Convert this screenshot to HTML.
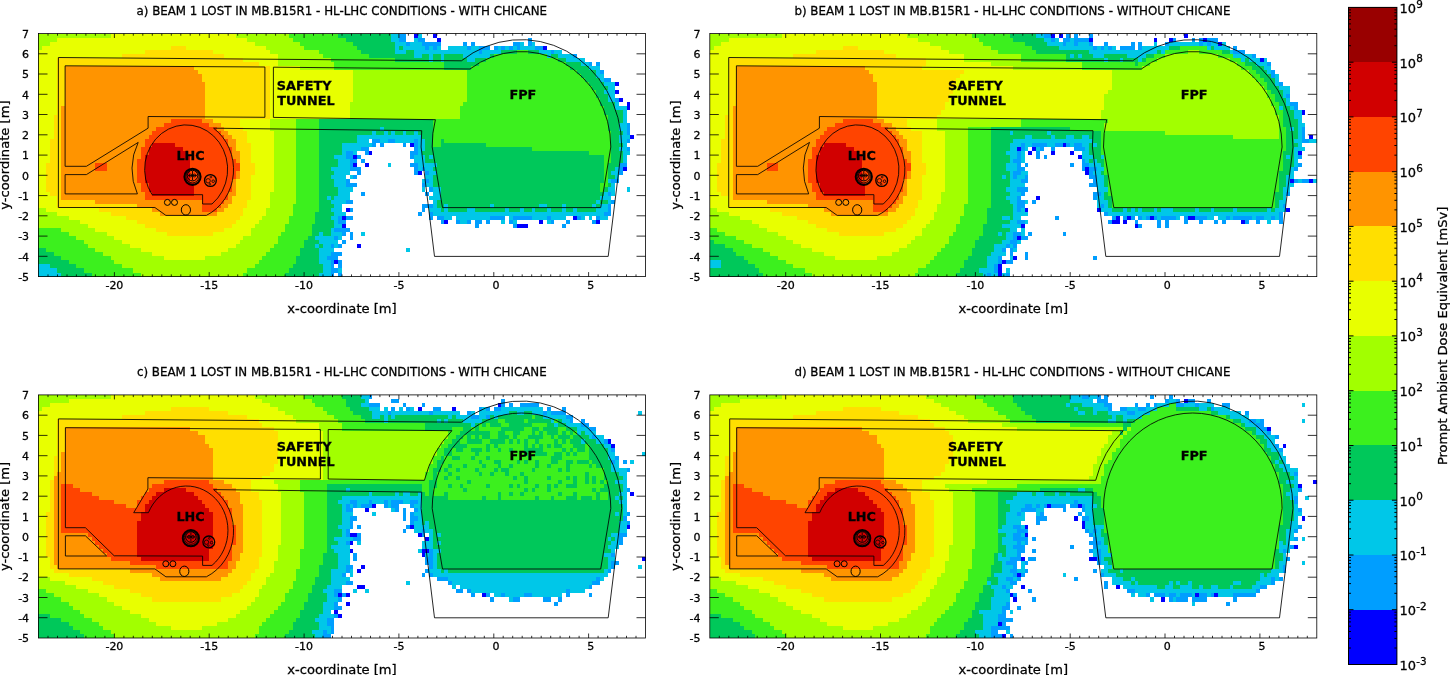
<!DOCTYPE html>
<html><head><meta charset="utf-8"><title>Prompt Ambient Dose Equivalent</title>
<style>html,body{margin:0;padding:0;background:#fff}svg{display:block}text{stroke:#000;stroke-width:.28px}</style></head><body>
<svg width="1450" height="676" viewBox="0 0 1450 676" font-family="'DejaVu Sans','Liberation Sans',sans-serif" fill="#000">
<rect width="1450" height="676" fill="#fff"/>
<g shape-rendering="crispEdges">
<path fill="#0000ff" d="M414 34h4v4h-4zM433 34h4v4h-4zM437 38h4v4h-4zM543 46h4v4h-4zM615 82h4v4h-4zM615 90h4v4h-4zM619 98h4v4h-4zM627 102h3v4h-3zM627 106h3v4h-3zM630 135h4v4h-4zM410 143h4v4h-4zM369 151h3v4h-3zM353 155h4v4h-4zM353 163h4v4h-4zM365 163h4v4h-4zM623 167h4v4h-4zM418 171h4v4h-4zM346 208h4v4h-4zM342 216h4v4h-4zM573 216h4v4h-4zM444 220h4v4h-4zM539 220h4v4h-4zM596 220h4v4h-4zM342 224h4v4h-4zM517 224h11v4h-11zM357 244h4v4h-4zM334 260h4v4h-4z"/>
<path fill="#009eff" d="M399 34h7v4h-7zM399 38h7v4h-7zM418 38h7v4h-7zM528 38h4v4h-4zM406 42h4v4h-4zM422 42h19v4h-19zM463 42h4v4h-4zM471 42h4v4h-4zM513 42h7v4h-7zM528 42h4v4h-4zM425 46h4v4h-4zM433 46h4v4h-4zM467 46h4v4h-4zM479 46h11v4h-11zM494 46h4v4h-4zM501 46h4v4h-4zM509 46h4v4h-4zM517 46h3v4h-3zM535 46h8v4h-8zM479 50h3v4h-3zM551 50h3v4h-3zM573 54h4v4h-4zM589 62h3v4h-3zM596 62h4v4h-4zM600 70h4v4h-4zM604 78h7v4h-7zM615 98h4v4h-4zM627 123h3v4h-3zM627 127h3v4h-3zM627 131h3v4h-3zM372 139h8v4h-8zM388 139h7v4h-7zM414 139h4v4h-4zM627 139h3v4h-3zM372 143h4v4h-4zM380 143h4v4h-4zM403 143h3v4h-3zM414 143h4v4h-4zM361 147h8v4h-8zM414 147h4v4h-4zM627 147h3v4h-3zM346 151h7v4h-7zM365 151h4v4h-4zM410 151h8v4h-8zM346 155h7v4h-7zM357 155h4v4h-4zM410 155h4v4h-4zM350 159h7v4h-7zM361 159h4v4h-4zM350 163h3v4h-3zM410 163h8v4h-8zM619 163h8v4h-8zM350 167h11v4h-11zM414 167h4v4h-4zM422 167h3v4h-3zM619 167h4v4h-4zM357 171h4v4h-4zM414 171h4v4h-4zM425 171h4v4h-4zM619 171h4v4h-4zM353 175h4v4h-4zM346 179h4v4h-4zM425 179h4v4h-4zM611 179h8v4h-8zM346 183h11v4h-11zM422 183h3v4h-3zM429 187h4v5h-4zM361 192h4v4h-4zM425 192h4v4h-4zM608 192h3v4h-3zM346 200h7v4h-7zM611 200h4v4h-4zM422 204h11v4h-11zM608 204h3v4h-3zM350 208h3v4h-3zM422 208h3v4h-3zM608 208h3v4h-3zM418 212h4v4h-4zM429 212h4v4h-4zM604 212h7v4h-7zM338 216h4v4h-4zM346 216h7v4h-7zM429 216h4v4h-4zM437 216h7v4h-7zM490 216h15v4h-15zM513 216h19v4h-19zM547 216h4v4h-4zM577 216h4v4h-4zM596 216h4v4h-4zM338 220h8v4h-8zM441 220h3v4h-3zM456 220h4v4h-4zM467 220h4v4h-4zM475 220h7v4h-7zM486 220h4v4h-4zM509 220h4v4h-4zM551 220h3v4h-3zM566 220h4v4h-4zM592 220h4v4h-4zM475 224h4v4h-4zM513 224h4v4h-4zM562 224h4v4h-4zM334 228h16v4h-16zM342 232h4v4h-4zM350 232h3v4h-3zM334 236h4v4h-4zM350 236h3v4h-3zM342 240h4v4h-4zM331 244h3v4h-3zM338 244h4v4h-4zM331 252h11v4h-11zM327 256h11v4h-11zM331 260h3v4h-3zM338 260h4v4h-4zM331 264h3v4h-3zM338 264h4v4h-4zM331 268h7v5h-7zM331 273h3v4h-3zM338 273h4v4h-4z"/>
<path fill="#00c7e8" d="M391 34h8v4h-8zM418 34h4v4h-4zM391 38h8v4h-8zM414 38h4v4h-4zM395 42h11v4h-11zM410 42h12v4h-12zM520 42h4v4h-4zM532 42h3v4h-3zM395 46h4v4h-4zM403 46h22v4h-22zM429 46h4v4h-4zM437 46h4v4h-4zM448 46h19v4h-19zM471 46h8v4h-8zM498 46h3v4h-3zM505 46h4v4h-4zM513 46h4v4h-4zM520 46h15v4h-15zM395 50h11v4h-11zM414 50h65v4h-65zM482 50h19v4h-19zM539 50h12v4h-12zM554 50h8v4h-8zM414 54h8v4h-8zM429 54h4v4h-4zM441 54h3v4h-3zM463 54h27v4h-27zM547 54h4v4h-4zM558 54h15v4h-15zM429 58h4v4h-4zM441 58h3v4h-3zM467 58h8v4h-8zM566 58h19v4h-19zM581 62h8v4h-8zM589 66h11v4h-11zM596 70h4v4h-4zM596 74h8v4h-8zM600 78h4v4h-4zM604 82h11v4h-11zM608 86h7v4h-7zM604 90h11v4h-11zM608 94h7v4h-7zM608 98h7v4h-7zM615 102h4v4h-4zM615 106h12v4h-12zM623 110h4v5h-4zM623 115h4v4h-4zM623 119h4v4h-4zM619 123h8v4h-8zM380 127h4v4h-4zM619 127h8v4h-8zM372 131h4v4h-4zM384 131h4v4h-4zM391 131h4v4h-4zM403 131h3v4h-3zM414 131h4v4h-4zM623 131h4v4h-4zM357 135h65v4h-65zM619 135h11v4h-11zM357 139h12v4h-12zM380 139h8v4h-8zM395 139h19v4h-19zM418 139h7v4h-7zM619 139h8v4h-8zM342 143h30v4h-30zM418 143h7v4h-7zM623 143h4v4h-4zM342 147h19v4h-19zM418 147h7v4h-7zM619 147h8v4h-8zM342 151h4v4h-4zM353 151h4v4h-4zM418 151h4v4h-4zM623 151h7v4h-7zM334 155h12v4h-12zM414 155h11v4h-11zM429 155h4v4h-4zM623 155h4v4h-4zM338 159h12v4h-12zM414 159h11v4h-11zM623 159h4v4h-4zM338 163h12v4h-12zM388 163h3v4h-3zM418 163h19v4h-19zM331 167h19v4h-19zM418 167h4v4h-4zM425 167h8v4h-8zM615 167h4v4h-4zM334 171h16v4h-16zM429 171h8v4h-8zM611 171h8v4h-8zM331 175h15v4h-15zM350 175h3v4h-3zM425 175h8v4h-8zM615 175h4v4h-4zM334 179h12v4h-12zM422 179h3v4h-3zM429 179h4v4h-4zM608 179h3v4h-3zM334 183h12v4h-12zM425 183h8v4h-8zM611 183h4v4h-4zM338 187h15v5h-15zM422 187h3v5h-3zM433 187h8v5h-8zM608 187h7v5h-7zM627 187h3v5h-3zM338 192h12v4h-12zM433 192h8v4h-8zM604 192h4v4h-4zM611 192h4v4h-4zM327 196h4v4h-4zM334 196h16v4h-16zM429 196h12v4h-12zM600 196h11v4h-11zM331 200h15v4h-15zM433 200h4v4h-4zM596 200h4v4h-4zM608 200h3v4h-3zM334 204h8v4h-8zM433 204h4v4h-4zM444 204h4v4h-4zM490 204h4v4h-4zM539 204h8v4h-8zM562 204h4v4h-4zM592 204h4v4h-4zM600 204h8v4h-8zM331 208h11v4h-11zM429 208h12v4h-12zM444 208h4v4h-4zM467 208h8v4h-8zM505 208h4v4h-4zM520 208h4v4h-4zM532 208h3v4h-3zM547 208h4v4h-4zM562 208h4v4h-4zM573 208h4v4h-4zM596 208h12v4h-12zM334 212h12v4h-12zM433 212h171v4h-171zM331 216h7v4h-7zM444 216h8v4h-8zM456 216h34v4h-34zM509 216h4v4h-4zM532 216h15v4h-15zM551 216h15v4h-15zM581 216h4v4h-4zM589 216h3v4h-3zM600 216h8v4h-8zM334 220h4v4h-4zM460 220h7v4h-7zM501 220h4v4h-4zM513 220h4v4h-4zM547 220h4v4h-4zM334 224h8v4h-8zM331 228h3v4h-3zM319 232h4v4h-4zM331 232h11v4h-11zM361 232h4v4h-4zM315 236h19v4h-19zM338 236h4v4h-4zM319 240h19v4h-19zM315 244h4v4h-4zM323 244h8v4h-8zM334 244h4v4h-4zM319 248h15v4h-15zM406 248h4v4h-4zM319 252h12v4h-12zM319 256h8v4h-8zM319 260h12v4h-12zM38 264h12v4h-12zM323 264h8v4h-8zM38 268h19v5h-19zM323 268h8v5h-8zM338 268h4v5h-4zM38 273h23v4h-23zM319 273h12v4h-12z"/>
<path fill="#00c85a" d="M338 34h53v4h-53zM346 38h45v4h-45zM353 42h42v4h-42zM357 46h38v4h-38zM399 46h4v4h-4zM361 50h34v4h-34zM406 50h8v4h-8zM501 50h16v4h-16zM528 50h11v4h-11zM369 54h45v4h-45zM422 54h7v4h-7zM433 54h8v4h-8zM444 54h19v4h-19zM490 54h4v4h-4zM551 54h7v4h-7zM395 58h34v4h-34zM433 58h8v4h-8zM444 58h23v4h-23zM475 58h11v4h-11zM558 58h8v4h-8zM444 62h35v4h-35zM566 62h15v4h-15zM444 66h27v4h-27zM570 66h19v4h-19zM577 70h19v4h-19zM581 74h15v4h-15zM585 78h15v4h-15zM589 82h15v4h-15zM592 86h16v4h-16zM596 90h8v4h-8zM596 94h12v4h-12zM600 98h8v4h-8zM600 102h15v4h-15zM604 106h11v4h-11zM604 110h19v5h-19zM608 115h15v4h-15zM319 119h114v4h-114zM608 119h15v4h-15zM319 123h114v4h-114zM608 123h11v4h-11zM319 127h61v4h-61zM384 127h49v4h-49zM608 127h11v4h-11zM319 131h53v4h-53zM376 131h8v4h-8zM388 131h3v4h-3zM395 131h8v4h-8zM406 131h8v4h-8zM418 131h15v4h-15zM611 131h12v4h-12zM319 135h38v4h-38zM422 135h11v4h-11zM611 135h8v4h-8zM319 139h38v4h-38zM425 139h8v4h-8zM441 139h3v4h-3zM611 139h8v4h-8zM319 143h23v4h-23zM425 143h8v4h-8zM441 143h45v4h-45zM611 143h12v4h-12zM319 147h23v4h-23zM425 147h107v4h-107zM611 147h8v4h-8zM319 151h23v4h-23zM422 151h167v4h-167zM611 151h12v4h-12zM319 155h15v4h-15zM425 155h4v4h-4zM433 155h171v4h-171zM611 155h12v4h-12zM319 159h19v4h-19zM425 159h179v4h-179zM611 159h12v4h-12zM319 163h19v4h-19zM437 163h167v4h-167zM608 163h11v4h-11zM319 167h12v4h-12zM433 167h171v4h-171zM608 167h7v4h-7zM319 171h15v4h-15zM437 171h167v4h-167zM608 171h3v4h-3zM319 175h12v4h-12zM433 175h171v4h-171zM608 175h7v4h-7zM319 179h15v4h-15zM433 179h171v4h-171zM319 183h15v4h-15zM433 183h167v4h-167zM608 183h3v4h-3zM319 187h19v5h-19zM441 187h159v5h-159zM604 187h4v5h-4zM319 192h19v4h-19zM441 192h163v4h-163zM319 196h8v4h-8zM331 196h3v4h-3zM441 196h159v4h-159zM319 200h12v4h-12zM437 200h159v4h-159zM600 200h8v4h-8zM319 204h15v4h-15zM437 204h7v4h-7zM448 204h42v4h-42zM494 204h45v4h-45zM547 204h15v4h-15zM566 204h26v4h-26zM596 204h4v4h-4zM319 208h12v4h-12zM441 208h3v4h-3zM448 208h19v4h-19zM475 208h30v4h-30zM509 208h11v4h-11zM524 208h8v4h-8zM535 208h12v4h-12zM551 208h11v4h-11zM566 208h7v4h-7zM577 208h19v4h-19zM315 212h19v4h-19zM315 216h16v4h-16zM315 220h19v4h-19zM312 224h22v4h-22zM312 228h19v4h-19zM312 232h7v4h-7zM323 232h8v4h-8zM308 236h7v4h-7zM304 240h15v4h-15zM304 244h11v4h-11zM319 244h4v4h-4zM38 248h8v4h-8zM300 248h19v4h-19zM38 252h16v4h-16zM300 252h19v4h-19zM38 256h23v4h-23zM296 256h23v4h-23zM38 260h31v4h-31zM296 260h23v4h-23zM50 264h26v4h-26zM293 264h30v4h-30zM57 268h27v5h-27zM289 268h34v5h-34zM61 273h31v4h-31zM285 273h34v4h-34z"/>
<path fill="#3cf01e" d="M289 34h49v4h-49zM293 38h53v4h-53zM300 42h53v4h-53zM304 46h53v4h-53zM319 50h42v4h-42zM517 50h11v4h-11zM323 54h46v4h-46zM494 54h53v4h-53zM331 58h64v4h-64zM486 58h72v4h-72zM334 62h110v4h-110zM479 62h87v4h-87zM334 66h110v4h-110zM471 66h99v4h-99zM467 70h110v4h-110zM467 74h114v4h-114zM467 78h118v4h-118zM467 82h122v4h-122zM467 86h125v4h-125zM467 90h129v4h-129zM467 94h129v4h-129zM467 98h133v4h-133zM463 102h137v4h-137zM460 106h144v4h-144zM460 110h144v5h-144zM460 115h148v4h-148zM296 119h23v4h-23zM433 119h175v4h-175zM296 123h23v4h-23zM433 123h175v4h-175zM296 127h23v4h-23zM433 127h175v4h-175zM296 131h23v4h-23zM433 131h178v4h-178zM296 135h23v4h-23zM433 135h178v4h-178zM296 139h23v4h-23zM433 139h8v4h-8zM444 139h167v4h-167zM296 143h23v4h-23zM433 143h8v4h-8zM486 143h125v4h-125zM296 147h23v4h-23zM532 147h79v4h-79zM296 151h23v4h-23zM589 151h22v4h-22zM296 155h23v4h-23zM604 155h7v4h-7zM296 159h23v4h-23zM604 159h7v4h-7zM296 163h23v4h-23zM604 163h4v4h-4zM296 167h23v4h-23zM604 167h4v4h-4zM296 171h23v4h-23zM604 171h4v4h-4zM296 175h23v4h-23zM604 175h4v4h-4zM296 179h23v4h-23zM604 179h4v4h-4zM296 183h23v4h-23zM600 183h8v4h-8zM296 187h23v5h-23zM600 187h4v5h-4zM296 192h23v4h-23zM296 196h23v4h-23zM296 200h23v4h-23zM293 204h26v4h-26zM293 208h26v4h-26zM293 212h22v4h-22zM289 216h26v4h-26zM289 220h26v4h-26zM285 224h27v4h-27zM38 228h23v4h-23zM285 228h27v4h-27zM38 232h31v4h-31zM281 232h31v4h-31zM38 236h38v4h-38zM278 236h30v4h-30zM38 240h46v4h-46zM278 240h26v4h-26zM38 244h50v4h-50zM274 244h30v4h-30zM46 248h49v4h-49zM270 248h30v4h-30zM54 252h49v4h-49zM266 252h34v4h-34zM61 256h50v4h-50zM262 256h34v4h-34zM69 260h45v4h-45zM259 260h37v4h-37zM76 264h46v4h-46zM255 264h38v4h-38zM84 268h49v5h-49zM247 268h42v5h-42zM92 273h49v4h-49zM243 273h42v4h-42z"/>
<path fill="#a2ff00" d="M38 34h73v4h-73zM236 34h53v4h-53zM38 38h19v4h-19zM247 38h46v4h-46zM38 42h12v4h-12zM255 42h45v4h-45zM38 46h4v4h-4zM266 46h38v4h-38zM270 50h49v4h-49zM278 54h45v4h-45zM278 58h53v4h-53zM278 62h56v4h-56zM300 66h34v4h-34zM353 70h114v4h-114zM353 74h114v4h-114zM353 78h114v4h-114zM353 82h114v4h-114zM353 86h114v4h-114zM353 90h114v4h-114zM353 94h114v4h-114zM353 98h114v4h-114zM350 102h113v4h-113zM350 106h110v4h-110zM350 110h110v5h-110zM350 115h110v4h-110zM270 119h26v4h-26zM270 123h26v4h-26zM270 127h26v4h-26zM274 131h22v4h-22zM274 135h22v4h-22zM274 139h22v4h-22zM274 143h22v4h-22zM274 147h22v4h-22zM274 151h22v4h-22zM274 155h22v4h-22zM274 159h22v4h-22zM274 163h22v4h-22zM274 167h22v4h-22zM274 171h22v4h-22zM274 175h22v4h-22zM274 179h22v4h-22zM274 183h22v4h-22zM274 187h22v5h-22zM270 192h26v4h-26zM270 196h26v4h-26zM270 200h26v4h-26zM270 204h23v4h-23zM38 208h8v4h-8zM266 208h27v4h-27zM38 212h19v4h-19zM266 212h27v4h-27zM38 216h31v4h-31zM262 216h27v4h-27zM38 220h42v4h-42zM259 220h30v4h-30zM38 224h50v4h-50zM255 224h30v4h-30zM61 228h34v4h-34zM251 228h34v4h-34zM69 232h38v4h-38zM251 232h30v4h-30zM76 236h38v4h-38zM243 236h35v4h-35zM84 240h38v4h-38zM240 240h38v4h-38zM88 244h42v4h-42zM236 244h38v4h-38zM95 248h46v4h-46zM228 248h42v4h-42zM103 252h49v4h-49zM221 252h45v4h-45zM111 256h53v4h-53zM205 256h57v4h-57zM114 260h145v4h-145zM122 264h133v4h-133zM133 268h114v5h-114zM141 273h102v4h-102z"/>
<path fill="#e8ff00" d="M111 34h125v4h-125zM57 38h190v4h-190zM50 42h205v4h-205zM42 46h129v4h-129zM186 46h80v4h-80zM38 50h107v4h-107zM213 50h57v4h-57zM38 54h84v4h-84zM224 54h54v4h-54zM38 58h19v4h-19zM243 58h35v4h-35zM38 62h19v4h-19zM259 62h19v4h-19zM38 66h19v4h-19zM270 66h30v4h-30zM38 70h19v4h-19zM270 70h83v4h-83zM38 74h19v4h-19zM270 74h83v4h-83zM38 78h19v4h-19zM270 78h83v4h-83zM38 82h19v4h-19zM270 82h83v4h-83zM38 86h19v4h-19zM270 86h83v4h-83zM38 90h19v4h-19zM270 90h83v4h-83zM38 94h19v4h-19zM270 94h83v4h-83zM38 98h19v4h-19zM270 98h83v4h-83zM38 102h19v4h-19zM270 102h80v4h-80zM38 106h19v4h-19zM270 106h80v4h-80zM38 110h19v5h-19zM270 110h80v5h-80zM38 115h16v4h-16zM270 115h80v4h-80zM38 119h16v4h-16zM240 119h30v4h-30zM38 123h16v4h-16zM240 123h30v4h-30zM38 127h16v4h-16zM243 127h27v4h-27zM38 131h16v4h-16zM247 131h27v4h-27zM38 135h16v4h-16zM247 135h27v4h-27zM38 139h12v4h-12zM247 139h27v4h-27zM38 143h12v4h-12zM251 143h23v4h-23zM38 147h12v4h-12zM251 147h23v4h-23zM38 151h12v4h-12zM251 151h23v4h-23zM38 155h12v4h-12zM251 155h23v4h-23zM38 159h12v4h-12zM251 159h23v4h-23zM38 163h8v4h-8zM255 163h19v4h-19zM38 167h8v4h-8zM255 167h19v4h-19zM38 171h8v4h-8zM255 171h19v4h-19zM38 175h8v4h-8zM251 175h23v4h-23zM38 179h8v4h-8zM251 179h23v4h-23zM38 183h8v4h-8zM251 183h23v4h-23zM38 187h8v5h-8zM251 187h23v5h-23zM38 192h12v4h-12zM251 192h19v4h-19zM38 196h19v4h-19zM251 196h19v4h-19zM38 200h19v4h-19zM247 200h23v4h-23zM38 204h19v4h-19zM247 204h23v4h-23zM46 208h53v4h-53zM243 208h23v4h-23zM57 212h54v4h-54zM243 212h23v4h-23zM69 216h57v4h-57zM240 216h22v4h-22zM80 220h57v4h-57zM236 220h23v4h-23zM88 224h57v4h-57zM232 224h23v4h-23zM95 228h61v4h-61zM224 228h27v4h-27zM107 232h60v4h-60zM213 232h38v4h-38zM114 236h129v4h-129zM122 240h118v4h-118zM130 244h106v4h-106zM141 248h87v4h-87zM152 252h69v4h-69zM164 256h41v4h-41z"/>
<path fill="#ffdf00" d="M171 46h15v4h-15zM145 50h68v4h-68zM122 54h102v4h-102zM57 58h186v4h-186zM57 62h202v4h-202zM57 66h8v4h-8zM194 66h76v4h-76zM57 70h8v4h-8zM198 70h72v4h-72zM57 74h8v4h-8zM202 74h68v4h-68zM57 78h8v4h-8zM202 78h68v4h-68zM57 82h8v4h-8zM205 82h65v4h-65zM57 86h8v4h-8zM205 86h65v4h-65zM57 90h8v4h-8zM205 90h65v4h-65zM57 94h8v4h-8zM205 94h65v4h-65zM57 98h8v4h-8zM205 98h65v4h-65zM57 102h8v4h-8zM205 102h65v4h-65zM57 106h4v4h-4zM205 106h65v4h-65zM57 110h4v5h-4zM205 110h65v5h-65zM54 115h7v4h-7zM205 115h65v4h-65zM54 119h7v4h-7zM213 119h27v4h-27zM54 123h7v4h-7zM221 123h19v4h-19zM54 127h7v4h-7zM224 127h19v4h-19zM54 131h7v4h-7zM228 131h19v4h-19zM54 135h7v4h-7zM232 135h15v4h-15zM50 139h11v4h-11zM236 139h11v4h-11zM50 143h11v4h-11zM236 143h15v4h-15zM50 147h11v4h-11zM236 147h15v4h-15zM50 151h11v4h-11zM240 151h11v4h-11zM50 155h11v4h-11zM240 155h11v4h-11zM50 159h11v4h-11zM240 159h11v4h-11zM46 163h15v4h-15zM240 163h15v4h-15zM46 167h15v4h-15zM240 167h15v4h-15zM46 171h15v4h-15zM240 171h15v4h-15zM46 175h15v4h-15zM240 175h11v4h-11zM46 179h15v4h-15zM236 179h15v4h-15zM46 183h15v4h-15zM236 183h15v4h-15zM46 187h15v5h-15zM236 187h15v5h-15zM50 192h11v4h-11zM236 192h15v4h-15zM57 196h4v4h-4zM232 196h19v4h-19zM57 200h38v4h-38zM232 200h15v4h-15zM57 204h80v4h-80zM228 204h19v4h-19zM99 208h53v4h-53zM224 208h19v4h-19zM111 212h49v4h-49zM217 212h26v4h-26zM126 216h114v4h-114zM137 220h99v4h-99zM145 224h87v4h-87zM156 228h68v4h-68zM167 232h46v4h-46z"/>
<path fill="#ff9400" d="M65 66h129v4h-129zM65 70h133v4h-133zM65 74h137v4h-137zM65 78h137v4h-137zM65 82h140v4h-140zM65 86h140v4h-140zM65 90h140v4h-140zM65 94h140v4h-140zM65 98h140v4h-140zM65 102h140v4h-140zM61 106h144v4h-144zM61 110h144v5h-144zM61 115h144v4h-144zM61 119h110v4h-110zM202 119h11v4h-11zM61 123h103v4h-103zM209 123h12v4h-12zM61 127h95v4h-95zM217 127h7v4h-7zM61 131h91v4h-91zM221 131h7v4h-7zM61 135h88v4h-88zM224 135h8v4h-8zM61 139h84v4h-84zM228 139h8v4h-8zM61 143h84v4h-84zM228 143h8v4h-8zM61 147h80v4h-80zM232 147h4v4h-4zM61 151h80v4h-80zM232 151h8v4h-8zM61 155h80v4h-80zM232 155h8v4h-8zM61 159h76v4h-76zM236 159h4v4h-4zM61 163h34v4h-34zM107 163h30v4h-30zM61 167h34v4h-34zM107 167h30v4h-30zM61 171h76v4h-76zM236 171h4v4h-4zM61 175h76v4h-76zM236 175h4v4h-4zM61 179h76v4h-76zM232 179h4v4h-4zM61 183h80v4h-80zM232 183h4v4h-4zM61 187h80v5h-80zM232 187h4v5h-4zM61 192h84v4h-84zM228 192h8v4h-8zM61 196h84v4h-84zM228 196h4v4h-4zM95 200h107v4h-107zM224 200h8v4h-8zM137 204h65v4h-65zM221 204h7v4h-7zM152 208h50v4h-50zM217 208h7v4h-7zM160 212h57v4h-57z"/>
<path fill="#ff4400" d="M171 119h31v4h-31zM164 123h45v4h-45zM156 127h61v4h-61zM152 131h69v4h-69zM149 135h75v4h-75zM145 139h83v4h-83zM145 143h7v4h-7zM175 143h53v4h-53zM141 147h8v4h-8zM183 147h49v4h-49zM141 151h8v4h-8zM186 151h46v4h-46zM141 155h4v4h-4zM190 155h42v4h-42zM137 159h8v4h-8zM190 159h46v4h-46zM95 163h12v4h-12zM137 163h8v4h-8zM190 163h50v4h-50zM95 167h12v4h-12zM137 167h8v4h-8zM190 167h50v4h-50zM137 171h8v4h-8zM190 171h46v4h-46zM137 175h8v4h-8zM190 175h46v4h-46zM137 179h8v4h-8zM190 179h42v4h-42zM141 183h8v4h-8zM194 183h38v4h-38zM141 187h8v5h-8zM194 187h38v5h-38zM145 192h7v4h-7zM194 192h34v4h-34zM145 196h83v4h-83zM202 200h22v4h-22zM202 204h19v4h-19zM202 208h15v4h-15z"/>
<path fill="#d10000" d="M152 143h23v4h-23zM149 147h34v4h-34zM149 151h37v4h-37zM145 155h45v4h-45zM145 159h45v4h-45zM145 163h45v4h-45zM145 167h45v4h-45zM145 171h45v4h-45zM145 175h45v4h-45zM145 179h45v4h-45zM149 183h45v4h-45zM149 187h45v5h-45zM152 192h42v4h-42z"/>
</g>
<g fill="none" stroke="#000" stroke-width="0.85">
<path d="M58.4 57.5L461.4 60.8A100.4 107.2 0 0 1 621.7 147.0L608.2 256.4L434.5 256.4L421.1 147.0L421.7 130.7L213.6 128.2A47.4 50.7 0 0 1 206.4 215.4L165.9 215.4L154.9 207.5L58.4 207.5Z"/>
<path d="M152.1 194.7A41.5 44.4 0 1 1 212.0 204.0L202.6 204.0L202.6 194.7Z"/>
<path d="M65.1 174.6L86.4 174.6L138.2 142.4A53.1 56.7 0 0 0 137.4 193.9L65.1 193.9Z"/>
<ellipse cx="167.4" cy="202.4" rx="3.00" ry="3.00" stroke-width="1"/>
<ellipse cx="174.5" cy="202.4" rx="3.00" ry="3.00" stroke-width="1"/>
<ellipse cx="185.9" cy="209.9" rx="4.60" ry="5.20" stroke-width="1"/>
<ellipse cx="192.5" cy="176.8" rx="8.10" ry="8.10" stroke-width="2.0"/>
<ellipse cx="192.5" cy="175.6" rx="5.30" ry="5.30" stroke-width="1.0"/>
<ellipse cx="192.5" cy="176.3" rx="6.60" ry="6.60" stroke-width="0.8"/>
<ellipse cx="190.6" cy="175.5" rx="1.40" ry="1.40" stroke-width="0.9"/>
<ellipse cx="194.4" cy="175.5" rx="1.40" ry="1.40" stroke-width="0.9"/>
<path d="M192.5 171.0L192.5 180.2"/>
<path d="M188.1 175.5L196.9 175.5"/>
<ellipse cx="210.4" cy="180.5" rx="5.90" ry="5.90" stroke-width="1.3"/>
<ellipse cx="208.1" cy="180.8" rx="2.20" ry="2.20" stroke-width="0.8"/>
<ellipse cx="213.2" cy="181.2" rx="1.30" ry="1.30" stroke-width="0.8"/>
<ellipse cx="210.9" cy="177.0" rx="0.90" ry="0.90" stroke-width="0.7"/>
<ellipse cx="209.9" cy="184.2" rx="0.80" ry="0.80" stroke-width="0.7"/>
<path d="M65.1 65.8L264.9 67.0L264.9 117.3L148.1 116.5L148.1 128.2L86.4 166.3L65.1 166.3Z"/>
<path d="M273.4 67.2L470.0 69.0A89.3 95.4 0 0 1 610.8 147.0L600.7 207.6L442.5 207.6L432.2 147.0A89.3 95.4 0 0 1 435.4 119.7L273.4 117.4Z"/>
</g>
<g font-weight="bold" font-size="12.8">
<text x="276.8" y="89.7">SAFETY</text>
<text x="277.2" y="104.8">TUNNEL</text>
<text x="176.4" y="159.5">LHC</text>
<text x="509.4" y="98.5">FPF</text>
</g>
<g stroke="#000" stroke-width="0.8" fill="none">
<rect x="38.5" y="33.5" width="607.0" height="243.1"/>
<path d="M48.0 276.6 v-2.2 M48.0 33.5 v2.2 M57.5 276.6 v-2.2 M57.5 33.5 v2.2 M67.0 276.6 v-2.2 M67.0 33.5 v2.2 M76.4 276.6 v-2.2 M76.4 33.5 v2.2 M85.9 276.6 v-2.2 M85.9 33.5 v2.2 M95.4 276.6 v-2.2 M95.4 33.5 v2.2 M104.9 276.6 v-2.2 M104.9 33.5 v2.2 M114.4 276.6 v-4.5 M114.4 33.5 v4.5 M123.9 276.6 v-2.2 M123.9 33.5 v2.2 M133.3 276.6 v-2.2 M133.3 33.5 v2.2 M142.8 276.6 v-2.2 M142.8 33.5 v2.2 M152.3 276.6 v-2.2 M152.3 33.5 v2.2 M161.8 276.6 v-2.2 M161.8 33.5 v2.2 M171.3 276.6 v-2.2 M171.3 33.5 v2.2 M180.8 276.6 v-2.2 M180.8 33.5 v2.2 M190.2 276.6 v-2.2 M190.2 33.5 v2.2 M199.7 276.6 v-2.2 M199.7 33.5 v2.2 M209.2 276.6 v-4.5 M209.2 33.5 v4.5 M218.7 276.6 v-2.2 M218.7 33.5 v2.2 M228.2 276.6 v-2.2 M228.2 33.5 v2.2 M237.7 276.6 v-2.2 M237.7 33.5 v2.2 M247.2 276.6 v-2.2 M247.2 33.5 v2.2 M256.6 276.6 v-2.2 M256.6 33.5 v2.2 M266.1 276.6 v-2.2 M266.1 33.5 v2.2 M275.6 276.6 v-2.2 M275.6 33.5 v2.2 M285.1 276.6 v-2.2 M285.1 33.5 v2.2 M294.6 276.6 v-2.2 M294.6 33.5 v2.2 M304.1 276.6 v-4.5 M304.1 33.5 v4.5 M313.5 276.6 v-2.2 M313.5 33.5 v2.2 M323.0 276.6 v-2.2 M323.0 33.5 v2.2 M332.5 276.6 v-2.2 M332.5 33.5 v2.2 M342.0 276.6 v-2.2 M342.0 33.5 v2.2 M351.5 276.6 v-2.2 M351.5 33.5 v2.2 M361.0 276.6 v-2.2 M361.0 33.5 v2.2 M370.5 276.6 v-2.2 M370.5 33.5 v2.2 M379.9 276.6 v-2.2 M379.9 33.5 v2.2 M389.4 276.6 v-2.2 M389.4 33.5 v2.2 M398.9 276.6 v-4.5 M398.9 33.5 v4.5 M408.4 276.6 v-2.2 M408.4 33.5 v2.2 M417.9 276.6 v-2.2 M417.9 33.5 v2.2 M427.4 276.6 v-2.2 M427.4 33.5 v2.2 M436.8 276.6 v-2.2 M436.8 33.5 v2.2 M446.3 276.6 v-2.2 M446.3 33.5 v2.2 M455.8 276.6 v-2.2 M455.8 33.5 v2.2 M465.3 276.6 v-2.2 M465.3 33.5 v2.2 M474.8 276.6 v-2.2 M474.8 33.5 v2.2 M484.3 276.6 v-2.2 M484.3 33.5 v2.2 M493.8 276.6 v-4.5 M493.8 33.5 v4.5 M503.2 276.6 v-2.2 M503.2 33.5 v2.2 M512.7 276.6 v-2.2 M512.7 33.5 v2.2 M522.2 276.6 v-2.2 M522.2 33.5 v2.2 M531.7 276.6 v-2.2 M531.7 33.5 v2.2 M541.2 276.6 v-2.2 M541.2 33.5 v2.2 M550.7 276.6 v-2.2 M550.7 33.5 v2.2 M560.1 276.6 v-2.2 M560.1 33.5 v2.2 M569.6 276.6 v-2.2 M569.6 33.5 v2.2 M579.1 276.6 v-2.2 M579.1 33.5 v2.2 M588.6 276.6 v-4.5 M588.6 33.5 v4.5 M598.1 276.6 v-2.2 M598.1 33.5 v2.2 M607.6 276.6 v-2.2 M607.6 33.5 v2.2 M617.0 276.6 v-2.2 M617.0 33.5 v2.2 M626.5 276.6 v-2.2 M626.5 33.5 v2.2 M636.0 276.6 v-2.2 M636.0 33.5 v2.2 M38.5 256.3 h9 M645.5 256.3 h-9 M38.5 236.1 h9 M645.5 236.1 h-9 M38.5 215.8 h9 M645.5 215.8 h-9 M38.5 195.6 h9 M645.5 195.6 h-9 M38.5 175.3 h9 M645.5 175.3 h-9 M38.5 155.1 h9 M645.5 155.1 h-9 M38.5 134.8 h9 M645.5 134.8 h-9 M38.5 114.5 h9 M645.5 114.5 h-9 M38.5 94.3 h9 M645.5 94.3 h-9 M38.5 74.0 h9 M645.5 74.0 h-9 M38.5 53.8 h9 M645.5 53.8 h-9 "/>
</g>
<g font-size="11" text-anchor="end">
<text x="29.1" y="280.8">-5</text>
<text x="29.1" y="260.5">-4</text>
<text x="29.1" y="240.3">-3</text>
<text x="29.1" y="220.0">-2</text>
<text x="29.1" y="199.8">-1</text>
<text x="29.1" y="179.5">0</text>
<text x="29.1" y="159.2">1</text>
<text x="29.1" y="139.0">2</text>
<text x="29.1" y="118.7">3</text>
<text x="29.1" y="98.5">4</text>
<text x="29.1" y="78.2">5</text>
<text x="29.1" y="58.0">6</text>
<text x="29.1" y="37.7">7</text>
</g>
<g font-size="11" text-anchor="middle">
<text x="114.4" y="289.0">-20</text>
<text x="209.2" y="289.0">-15</text>
<text x="304.1" y="289.0">-10</text>
<text x="398.9" y="289.0">-5</text>
<text x="495.9" y="289.0">0</text>
<text x="590.8" y="289.0">5</text>
</g>
<text font-size="13.1" text-anchor="middle" x="342.0" y="313.0">x-coordinate [m]</text>
<text font-size="13.1" text-anchor="middle" transform="translate(9.1 155.1) rotate(-90)">y-coordinate [m]</text>
<text font-size="11.85" text-anchor="middle" x="341.8" y="14.6">a) BEAM 1 LOST IN MB.B15R1 - HL-LHC CONDITIONS - WITH CHICANE</text>
<g shape-rendering="crispEdges">
<path fill="#0000ff" d="M1051 34h4v4h-4zM1059 34h4v4h-4zM1184 34h4v4h-4zM1089 38h4v4h-4zM1154 38h3v4h-3zM1169 38h4v4h-4zM1203 38h4v4h-4zM1218 42h4v4h-4zM1260 58h4v4h-4zM1302 110h3v5h-3zM1309 135h4v4h-4zM1063 143h3v4h-3zM1017 147h4v4h-4zM1032 147h4v4h-4zM1028 151h4v4h-4zM1051 151h4v4h-4zM1070 151h4v4h-4zM1298 151h4v4h-4zM1078 155h4v4h-4zM1085 167h4v4h-4zM1085 171h4v4h-4zM1290 179h4v4h-4zM1309 179h4v4h-4zM1036 196h4v4h-4zM1025 208h3v4h-3zM1097 208h4v4h-4zM1286 208h4v4h-4zM1116 216h4v4h-4zM1127 216h4v4h-4zM1150 216h4v4h-4zM1188 216h7v4h-7zM1112 220h8v4h-8zM1123 220h4v4h-4zM1241 220h4v4h-4zM1021 224h4v4h-4zM1135 224h3v4h-3zM1017 236h4v4h-4zM1013 256h4v4h-4zM1002 260h4v4h-4zM998 264h4v4h-4zM998 268h4v5h-4zM998 273h4v4h-4z"/>
<path fill="#009eff" d="M1044 34h7v4h-7zM1066 34h4v4h-4zM1074 34h4v4h-4zM1089 34h4v4h-4zM1051 38h4v4h-4zM1063 38h7v4h-7zM1074 38h15v4h-15zM1173 38h3v4h-3zM1192 38h3v4h-3zM1199 38h4v4h-4zM1207 38h11v4h-11zM1063 42h3v4h-3zM1074 42h4v4h-4zM1089 42h4v4h-4zM1104 42h4v4h-4zM1131 42h4v4h-4zM1138 42h4v4h-4zM1165 42h4v4h-4zM1199 42h4v4h-4zM1207 42h4v4h-4zM1093 46h4v4h-4zM1101 46h3v4h-3zM1108 46h4v4h-4zM1120 46h15v4h-15zM1138 46h4v4h-4zM1233 46h4v4h-4zM1233 50h12v4h-12zM1252 54h4v4h-4zM1267 62h4v4h-4zM1271 70h4v4h-4zM1271 74h4v4h-4zM1279 82h4v4h-4zM1286 94h4v4h-4zM1290 102h8v4h-8zM1294 106h4v4h-4zM1302 127h3v4h-3zM1302 131h3v4h-3zM1302 135h3v4h-3zM1302 139h7v4h-7zM1021 143h4v4h-4zM1032 143h15v4h-15zM1055 143h8v4h-8zM1066 143h4v4h-4zM1074 143h8v4h-8zM1021 147h4v4h-4zM1040 147h4v4h-4zM1051 147h4v4h-4zM1074 147h11v4h-11zM1017 151h4v4h-4zM1036 151h4v4h-4zM1017 155h4v4h-4zM1036 155h4v4h-4zM1044 155h3v4h-3zM1298 155h4v4h-4zM1013 159h8v4h-8zM1082 159h3v4h-3zM1017 163h4v4h-4zM1025 163h3v4h-3zM1070 163h4v4h-4zM1082 163h7v4h-7zM1298 163h4v4h-4zM1017 167h8v4h-8zM1082 167h3v4h-3zM1089 167h8v4h-8zM1294 167h4v4h-4zM1013 171h8v4h-8zM1089 171h4v4h-4zM1013 175h4v4h-4zM1025 175h3v4h-3zM1089 175h8v4h-8zM1021 179h7v4h-7zM1093 179h4v4h-4zM1294 179h4v4h-4zM1302 179h7v4h-7zM1089 183h8v4h-8zM1017 187h11v5h-11zM1021 192h4v4h-4zM1093 192h8v4h-8zM1286 192h4v4h-4zM1017 196h4v4h-4zM1093 196h4v4h-4zM1017 200h8v4h-8zM1032 200h4v4h-4zM1017 204h8v4h-8zM1101 204h3v4h-3zM1283 204h3v4h-3zM1017 208h4v4h-4zM1104 212h4v4h-4zM1279 212h4v4h-4zM1055 216h4v4h-4zM1112 216h4v4h-4zM1123 216h4v4h-4zM1131 216h4v4h-4zM1138 216h4v4h-4zM1146 216h4v4h-4zM1154 216h3v4h-3zM1161 216h15v4h-15zM1184 216h4v4h-4zM1195 216h12v4h-12zM1226 216h4v4h-4zM1233 216h19v4h-19zM1256 216h8v4h-8zM1271 216h4v4h-4zM1279 216h4v4h-4zM1017 220h8v4h-8zM1108 220h4v4h-4zM1135 220h3v4h-3zM1157 220h4v4h-4zM1165 220h4v4h-4zM1184 220h4v4h-4zM1199 220h4v4h-4zM1214 220h4v4h-4zM1222 220h4v4h-4zM1245 220h4v4h-4zM1256 220h4v4h-4zM1279 220h4v4h-4zM1138 224h4v4h-4zM1157 224h4v4h-4zM1165 224h4v4h-4zM1013 232h8v4h-8zM1028 232h4v4h-4zM1063 232h3v4h-3zM1013 236h4v4h-4zM1021 236h7v4h-7zM1010 240h7v4h-7zM1006 244h4v4h-4zM1013 244h4v4h-4zM1002 248h4v4h-4zM1010 248h3v4h-3zM1010 252h3v4h-3zM1025 252h3v4h-3zM998 256h4v4h-4zM1025 256h3v4h-3zM1093 256h4v4h-4zM998 260h4v4h-4zM1006 260h7v4h-7zM994 264h4v4h-4zM994 268h4v5h-4zM987 273h4v4h-4zM1006 273h4v4h-4z"/>
<path fill="#00c7e8" d="M1036 34h8v4h-8zM1044 38h7v4h-7zM1055 38h4v4h-4zM1070 38h4v4h-4zM1047 42h16v4h-16zM1066 42h8v4h-8zM1078 42h11v4h-11zM1154 42h3v4h-3zM1169 42h30v4h-30zM1203 42h4v4h-4zM1211 42h7v4h-7zM1222 42h4v4h-4zM1059 46h34v4h-34zM1097 46h4v4h-4zM1104 46h4v4h-4zM1112 46h4v4h-4zM1142 46h27v4h-27zM1207 46h4v4h-4zM1214 46h16v4h-16zM1089 50h68v4h-68zM1161 50h4v4h-4zM1230 50h3v4h-3zM1070 54h4v4h-4zM1078 54h4v4h-4zM1093 54h11v4h-11zM1127 54h19v4h-19zM1233 54h19v4h-19zM1104 58h4v4h-4zM1120 58h3v4h-3zM1138 58h4v4h-4zM1241 58h4v4h-4zM1249 58h11v4h-11zM1264 58h3v4h-3zM1256 62h11v4h-11zM1264 66h7v4h-7zM1267 70h4v4h-4zM1275 74h4v4h-4zM1275 78h4v4h-4zM1275 82h4v4h-4zM1279 86h11v4h-11zM1283 90h7v4h-7zM1283 94h3v4h-3zM1286 98h4v4h-4zM1286 102h4v4h-4zM1279 106h4v4h-4zM1290 106h4v4h-4zM1294 110h8v5h-8zM1294 115h8v4h-8zM1298 119h4v4h-4zM1298 123h7v4h-7zM1290 127h4v4h-4zM1298 127h4v4h-4zM1010 131h3v4h-3zM1047 131h4v4h-4zM1298 131h4v4h-4zM1025 135h7v4h-7zM1051 135h4v4h-4zM1066 135h8v4h-8zM1082 135h7v4h-7zM1298 135h4v4h-4zM1013 139h80v4h-80zM1294 139h8v4h-8zM1309 139h8v4h-8zM1010 143h11v4h-11zM1025 143h7v4h-7zM1047 143h8v4h-8zM1070 143h4v4h-4zM1082 143h7v4h-7zM1093 143h4v4h-4zM1298 143h4v4h-4zM1010 147h7v4h-7zM1025 147h3v4h-3zM1036 147h4v4h-4zM1085 147h4v4h-4zM1294 147h11v4h-11zM1006 151h11v4h-11zM1021 151h4v4h-4zM1082 151h7v4h-7zM1294 151h4v4h-4zM1010 155h7v4h-7zM1021 155h4v4h-4zM1082 155h11v4h-11zM1101 155h3v4h-3zM1286 155h4v4h-4zM1294 155h4v4h-4zM1010 159h3v4h-3zM1021 159h4v4h-4zM1085 159h4v4h-4zM1093 159h4v4h-4zM1294 159h4v4h-4zM1006 163h11v4h-11zM1089 163h12v4h-12zM1294 163h4v4h-4zM1006 167h11v4h-11zM1097 167h7v4h-7zM1290 167h4v4h-4zM1010 171h3v4h-3zM1021 171h7v4h-7zM1093 171h8v4h-8zM1290 171h4v4h-4zM1002 175h4v4h-4zM1010 175h3v4h-3zM1017 175h8v4h-8zM1097 175h7v4h-7zM1286 175h8v4h-8zM1010 179h11v4h-11zM1097 179h7v4h-7zM1286 179h4v4h-4zM1298 179h4v4h-4zM1313 179h4v4h-4zM1010 183h15v4h-15zM1097 183h7v4h-7zM1286 183h8v4h-8zM1006 187h11v5h-11zM1097 187h11v5h-11zM1283 187h7v5h-7zM1010 192h11v4h-11zM1101 192h3v4h-3zM1283 192h3v4h-3zM1006 196h11v4h-11zM1097 196h7v4h-7zM1283 196h3v4h-3zM1010 200h7v4h-7zM1025 200h3v4h-3zM1097 200h11v4h-11zM1279 200h7v4h-7zM1013 204h4v4h-4zM1097 204h4v4h-4zM1104 204h4v4h-4zM1279 204h4v4h-4zM1013 208h4v4h-4zM1021 208h4v4h-4zM1101 208h11v4h-11zM1123 208h4v4h-4zM1131 208h4v4h-4zM1138 208h4v4h-4zM1154 208h3v4h-3zM1161 208h12v4h-12zM1195 208h4v4h-4zM1211 208h3v4h-3zM1233 208h4v4h-4zM1267 208h4v4h-4zM1275 208h11v4h-11zM1013 212h15v4h-15zM1108 212h171v4h-171zM1002 216h8v4h-8zM1013 216h8v4h-8zM1142 216h4v4h-4zM1157 216h4v4h-4zM1176 216h4v4h-4zM1207 216h7v4h-7zM1218 216h8v4h-8zM1230 216h3v4h-3zM1252 216h4v4h-4zM1264 216h7v4h-7zM1275 216h4v4h-4zM1010 220h7v4h-7zM1025 220h3v4h-3zM1267 220h4v4h-4zM1002 224h19v4h-19zM1010 228h7v4h-7zM1021 228h4v4h-4zM998 232h4v4h-4zM1006 232h7v4h-7zM1021 232h4v4h-4zM1006 236h7v4h-7zM1002 240h8v4h-8zM1017 240h4v4h-4zM994 244h12v4h-12zM1010 244h3v4h-3zM994 248h8v4h-8zM1013 248h4v4h-4zM991 252h15v4h-15zM987 256h11v4h-11zM1010 256h3v4h-3zM710 260h11v4h-11zM987 260h11v4h-11zM710 264h11v4h-11zM987 264h7v4h-7zM979 268h15v5h-15zM1006 268h4v5h-4zM983 273h4v4h-4zM991 273h7v4h-7zM1002 273h4v4h-4z"/>
<path fill="#00c85a" d="M1010 34h26v4h-26zM1013 38h31v4h-31zM1025 42h22v4h-22zM1032 46h27v4h-27zM1169 46h11v4h-11zM1211 46h3v4h-3zM1036 50h53v4h-53zM1157 50h4v4h-4zM1222 50h8v4h-8zM1066 54h4v4h-4zM1074 54h4v4h-4zM1082 54h11v4h-11zM1104 54h23v4h-23zM1146 54h8v4h-8zM1066 58h38v4h-38zM1108 58h12v4h-12zM1123 58h15v4h-15zM1142 58h4v4h-4zM1245 58h4v4h-4zM1135 62h3v4h-3zM1245 62h11v4h-11zM1252 66h12v4h-12zM1256 70h11v4h-11zM1260 74h11v4h-11zM1264 78h11v4h-11zM1267 82h8v4h-8zM1267 86h12v4h-12zM1271 90h12v4h-12zM1275 94h8v4h-8zM1275 98h11v4h-11zM1279 102h7v4h-7zM1283 106h7v4h-7zM1283 110h11v5h-11zM1283 115h11v4h-11zM1283 119h15v4h-15zM1283 123h15v4h-15zM991 127h79v4h-79zM1286 127h4v4h-4zM1294 127h4v4h-4zM991 131h19v4h-19zM1013 131h34v4h-34zM1051 131h50v4h-50zM1286 131h12v4h-12zM991 135h34v4h-34zM1032 135h19v4h-19zM1055 135h11v4h-11zM1074 135h8v4h-8zM1089 135h12v4h-12zM1286 135h12v4h-12zM991 139h22v4h-22zM1093 139h8v4h-8zM1286 139h8v4h-8zM991 143h19v4h-19zM1089 143h4v4h-4zM1097 143h4v4h-4zM1286 143h12v4h-12zM991 147h19v4h-19zM1089 147h12v4h-12zM1286 147h8v4h-8zM991 151h15v4h-15zM1089 151h12v4h-12zM1283 151h11v4h-11zM991 155h19v4h-19zM1093 155h8v4h-8zM1283 155h3v4h-3zM1290 155h4v4h-4zM991 159h19v4h-19zM1089 159h4v4h-4zM1097 159h7v4h-7zM1283 159h11v4h-11zM991 163h15v4h-15zM1101 163h3v4h-3zM1283 163h11v4h-11zM991 167h15v4h-15zM1283 167h7v4h-7zM991 171h19v4h-19zM1101 171h3v4h-3zM1279 171h11v4h-11zM991 175h11v4h-11zM1006 175h4v4h-4zM1104 175h4v4h-4zM1279 175h7v4h-7zM991 179h19v4h-19zM1104 179h4v4h-4zM1279 179h7v4h-7zM991 183h19v4h-19zM1104 183h4v4h-4zM1279 183h7v4h-7zM991 187h15v5h-15zM1279 187h4v5h-4zM991 192h19v4h-19zM1104 192h4v4h-4zM1275 192h8v4h-8zM991 196h15v4h-15zM1104 196h8v4h-8zM1275 196h8v4h-8zM991 200h19v4h-19zM1108 200h4v4h-4zM1275 200h4v4h-4zM991 204h22v4h-22zM1108 204h4v4h-4zM1275 204h4v4h-4zM987 208h26v4h-26zM1112 208h11v4h-11zM1127 208h4v4h-4zM1135 208h3v4h-3zM1142 208h12v4h-12zM1157 208h4v4h-4zM1173 208h22v4h-22zM1199 208h12v4h-12zM1214 208h19v4h-19zM1237 208h30v4h-30zM1271 208h4v4h-4zM987 212h26v4h-26zM987 216h15v4h-15zM1010 216h3v4h-3zM987 220h23v4h-23zM983 224h19v4h-19zM983 228h27v4h-27zM983 232h15v4h-15zM1002 232h4v4h-4zM979 236h27v4h-27zM710 240h4v4h-4zM975 240h27v4h-27zM710 244h15v4h-15zM975 244h19v4h-19zM710 248h23v4h-23zM972 248h22v4h-22zM710 252h26v4h-26zM972 252h19v4h-19zM710 256h34v4h-34zM968 256h19v4h-19zM721 260h27v4h-27zM964 260h23v4h-23zM721 264h34v4h-34zM964 264h23v4h-23zM710 268h49v5h-49zM960 268h19v5h-19zM710 273h53v4h-53zM956 273h27v4h-27z"/>
<path fill="#3cf01e" d="M972 34h38v4h-38zM979 38h34v4h-34zM983 42h42v4h-42zM991 46h41v4h-41zM1180 46h27v4h-27zM998 50h38v4h-38zM1165 50h23v4h-23zM1199 50h23v4h-23zM1021 54h45v4h-45zM1154 54h11v4h-11zM1218 54h15v4h-15zM1021 58h45v4h-45zM1146 58h11v4h-11zM1230 58h11v4h-11zM1082 62h53v4h-53zM1138 62h12v4h-12zM1237 62h8v4h-8zM1082 66h60v4h-60zM1241 66h11v4h-11zM1249 70h7v4h-7zM1252 74h8v4h-8zM1256 78h8v4h-8zM1260 82h7v4h-7zM1264 86h3v4h-3zM1267 90h4v4h-4zM1267 94h8v4h-8zM1271 98h4v4h-4zM1271 102h8v4h-8zM1275 106h4v4h-4zM1275 110h8v5h-8zM1279 115h4v4h-4zM1021 119h87v4h-87zM1279 119h4v4h-4zM1021 123h83v4h-83zM1279 123h4v4h-4zM968 127h23v4h-23zM1070 127h34v4h-34zM1279 127h7v4h-7zM968 131h23v4h-23zM1101 131h64v4h-64zM1279 131h7v4h-7zM968 135h23v4h-23zM1101 135h132v4h-132zM1279 135h7v4h-7zM968 139h23v4h-23zM1101 139h185v4h-185zM968 143h23v4h-23zM1101 143h185v4h-185zM968 147h23v4h-23zM1101 147h185v4h-185zM968 151h23v4h-23zM1101 151h182v4h-182zM968 155h23v4h-23zM1104 155h179v4h-179zM968 159h23v4h-23zM1104 159h179v4h-179zM968 163h23v4h-23zM1104 163h179v4h-179zM968 167h23v4h-23zM1104 167h179v4h-179zM968 171h23v4h-23zM1104 171h175v4h-175zM968 175h23v4h-23zM1108 175h171v4h-171zM968 179h23v4h-23zM1108 179h171v4h-171zM968 183h23v4h-23zM1108 183h171v4h-171zM968 187h23v5h-23zM1108 187h171v5h-171zM968 192h23v4h-23zM1108 192h167v4h-167zM968 196h23v4h-23zM1112 196h163v4h-163zM968 200h23v4h-23zM1112 200h163v4h-163zM964 204h27v4h-27zM1112 204h163v4h-163zM964 208h23v4h-23zM964 212h23v4h-23zM960 216h27v4h-27zM960 220h27v4h-27zM956 224h27v4h-27zM710 228h7v4h-7zM956 228h27v4h-27zM710 232h15v4h-15zM953 232h30v4h-30zM710 236h26v4h-26zM949 236h30v4h-30zM714 240h30v4h-30zM949 240h26v4h-26zM725 244h27v4h-27zM945 244h30v4h-30zM733 248h30v4h-30zM941 248h31v4h-31zM736 252h34v4h-34zM937 252h35v4h-35zM744 256h34v4h-34zM934 256h34v4h-34zM748 260h38v4h-38zM930 260h34v4h-34zM755 264h38v4h-38zM926 264h38v4h-38zM759 268h46v5h-46zM918 268h42v5h-42zM763 273h49v4h-49zM915 273h41v4h-41z"/>
<path fill="#a2ff00" d="M710 34h72v4h-72zM907 34h65v4h-65zM710 38h19v4h-19zM918 38h61v4h-61zM710 42h11v4h-11zM930 42h53v4h-53zM710 46h4v4h-4zM941 46h50v4h-50zM949 50h49v4h-49zM1188 50h11v4h-11zM964 54h57v4h-57zM1165 54h53v4h-53zM964 58h57v4h-57zM1157 58h73v4h-73zM991 62h91v4h-91zM1150 62h87v4h-87zM1013 66h69v4h-69zM1142 66h99v4h-99zM1112 70h137v4h-137zM1112 74h140v4h-140zM1112 78h144v4h-144zM1112 82h148v4h-148zM1112 86h152v4h-152zM1108 90h159v4h-159zM1104 94h163v4h-163zM1104 98h167v4h-167zM1104 102h167v4h-167zM1104 106h171v4h-171zM1101 110h174v5h-174zM1101 115h178v4h-178zM937 119h84v4h-84zM1108 119h171v4h-171zM937 123h84v4h-84zM1104 123h175v4h-175zM937 127h31v4h-31zM1104 127h175v4h-175zM945 131h23v4h-23zM1165 131h114v4h-114zM945 135h23v4h-23zM1233 135h46v4h-46zM945 139h23v4h-23zM945 143h23v4h-23zM945 147h23v4h-23zM945 151h23v4h-23zM945 155h23v4h-23zM945 159h23v4h-23zM945 163h23v4h-23zM945 167h23v4h-23zM945 171h23v4h-23zM945 175h23v4h-23zM945 179h23v4h-23zM945 183h23v4h-23zM945 187h23v5h-23zM941 192h27v4h-27zM941 196h27v4h-27zM941 200h27v4h-27zM937 204h27v4h-27zM710 208h7v4h-7zM937 208h27v4h-27zM710 212h19v4h-19zM934 212h30v4h-30zM710 216h30v4h-30zM934 216h26v4h-26zM710 220h42v4h-42zM930 220h30v4h-30zM710 224h49v4h-49zM926 224h30v4h-30zM717 228h50v4h-50zM922 228h34v4h-34zM725 232h53v4h-53zM922 232h31v4h-31zM736 236h50v4h-50zM915 236h34v4h-34zM744 240h49v4h-49zM911 240h38v4h-38zM752 244h49v4h-49zM907 244h38v4h-38zM763 248h49v4h-49zM899 248h42v4h-42zM770 252h54v4h-54zM892 252h45v4h-45zM778 256h57v4h-57zM877 256h57v4h-57zM786 260h144v4h-144zM793 264h133v4h-133zM805 268h113v5h-113zM812 273h103v4h-103z"/>
<path fill="#e8ff00" d="M782 34h125v4h-125zM729 38h189v4h-189zM721 42h209v4h-209zM714 46h129v4h-129zM858 46h83v4h-83zM710 50h106v4h-106zM884 50h65v4h-65zM710 54h83v4h-83zM896 54h68v4h-68zM710 58h19v4h-19zM926 58h38v4h-38zM710 62h19v4h-19zM926 62h65v4h-65zM710 66h19v4h-19zM922 66h91v4h-91zM710 70h19v4h-19zM964 70h148v4h-148zM710 74h19v4h-19zM960 74h152v4h-152zM710 78h19v4h-19zM956 78h156v4h-156zM710 82h19v4h-19zM956 82h156v4h-156zM710 86h19v4h-19zM953 86h159v4h-159zM710 90h19v4h-19zM953 90h155v4h-155zM710 94h19v4h-19zM949 94h155v4h-155zM710 98h19v4h-19zM949 98h155v4h-155zM710 102h19v4h-19zM945 102h159v4h-159zM710 106h19v4h-19zM945 106h159v4h-159zM710 110h19v5h-19zM941 110h160v5h-160zM710 115h15v4h-15zM937 115h164v4h-164zM710 119h15v4h-15zM907 119h30v4h-30zM710 123h15v4h-15zM907 123h30v4h-30zM710 127h15v4h-15zM911 127h26v4h-26zM710 131h15v4h-15zM922 131h23v4h-23zM710 135h15v4h-15zM922 135h23v4h-23zM710 139h11v4h-11zM922 139h23v4h-23zM710 143h11v4h-11zM922 143h23v4h-23zM710 147h11v4h-11zM922 147h23v4h-23zM710 151h11v4h-11zM922 151h23v4h-23zM710 155h11v4h-11zM922 155h23v4h-23zM710 159h11v4h-11zM922 159h23v4h-23zM710 163h7v4h-7zM926 163h19v4h-19zM710 167h7v4h-7zM926 167h19v4h-19zM710 171h7v4h-7zM926 171h19v4h-19zM710 175h7v4h-7zM922 175h23v4h-23zM710 179h7v4h-7zM922 179h23v4h-23zM710 183h7v4h-7zM922 183h23v4h-23zM710 187h7v5h-7zM922 187h23v5h-23zM710 192h11v4h-11zM922 192h19v4h-19zM710 196h19v4h-19zM922 196h19v4h-19zM710 200h19v4h-19zM918 200h23v4h-23zM710 204h19v4h-19zM918 204h19v4h-19zM717 208h53v4h-53zM915 208h22v4h-22zM729 212h53v4h-53zM915 212h19v4h-19zM740 216h57v4h-57zM911 216h23v4h-23zM752 220h56v4h-56zM907 220h23v4h-23zM759 224h57v4h-57zM903 224h23v4h-23zM767 228h60v4h-60zM896 228h26v4h-26zM778 232h61v4h-61zM884 232h38v4h-38zM786 236h129v4h-129zM793 240h118v4h-118zM801 244h106v4h-106zM812 248h87v4h-87zM824 252h68v4h-68zM835 256h42v4h-42z"/>
<path fill="#ffdf00" d="M843 46h15v4h-15zM816 50h68v4h-68zM793 54h103v4h-103zM729 58h197v4h-197zM729 62h197v4h-197zM729 66h7v4h-7zM865 66h57v4h-57zM729 70h7v4h-7zM869 70h95v4h-95zM729 74h7v4h-7zM873 74h87v4h-87zM729 78h7v4h-7zM873 78h83v4h-83zM729 82h7v4h-7zM877 82h79v4h-79zM729 86h7v4h-7zM877 86h76v4h-76zM729 90h7v4h-7zM877 90h76v4h-76zM729 94h7v4h-7zM877 94h72v4h-72zM729 98h7v4h-7zM877 98h72v4h-72zM729 102h7v4h-7zM877 102h68v4h-68zM729 106h4v4h-4zM877 106h68v4h-68zM729 110h4v5h-4zM877 110h64v5h-64zM725 115h8v4h-8zM877 115h60v4h-60zM725 119h8v4h-8zM884 119h23v4h-23zM725 123h8v4h-8zM892 123h15v4h-15zM725 127h8v4h-8zM896 127h15v4h-15zM725 131h8v4h-8zM899 131h23v4h-23zM725 135h8v4h-8zM903 135h19v4h-19zM721 139h12v4h-12zM907 139h15v4h-15zM721 143h12v4h-12zM907 143h15v4h-15zM721 147h12v4h-12zM907 147h15v4h-15zM721 151h12v4h-12zM911 151h11v4h-11zM721 155h12v4h-12zM911 155h11v4h-11zM721 159h12v4h-12zM911 159h11v4h-11zM717 163h16v4h-16zM911 163h15v4h-15zM717 167h16v4h-16zM911 167h15v4h-15zM717 171h16v4h-16zM911 171h15v4h-15zM717 175h16v4h-16zM911 175h11v4h-11zM717 179h16v4h-16zM907 179h15v4h-15zM717 183h16v4h-16zM907 183h15v4h-15zM717 187h16v5h-16zM907 187h15v5h-15zM721 192h12v4h-12zM907 192h15v4h-15zM729 196h4v4h-4zM903 196h19v4h-19zM729 200h38v4h-38zM903 200h15v4h-15zM729 204h79v4h-79zM899 204h19v4h-19zM770 208h54v4h-54zM896 208h19v4h-19zM782 212h49v4h-49zM888 212h27v4h-27zM797 216h114v4h-114zM808 220h99v4h-99zM816 224h87v4h-87zM827 228h69v4h-69zM839 232h45v4h-45z"/>
<path fill="#ff9400" d="M736 66h129v4h-129zM736 70h133v4h-133zM736 74h137v4h-137zM736 78h137v4h-137zM736 82h141v4h-141zM736 86h141v4h-141zM736 90h141v4h-141zM736 94h141v4h-141zM736 98h141v4h-141zM736 102h141v4h-141zM733 106h144v4h-144zM733 110h144v5h-144zM733 115h144v4h-144zM733 119h110v4h-110zM873 119h11v4h-11zM733 123h102v4h-102zM881 123h11v4h-11zM733 127h94v4h-94zM888 127h8v4h-8zM733 131h91v4h-91zM892 131h7v4h-7zM733 135h87v4h-87zM896 135h7v4h-7zM733 139h83v4h-83zM899 139h8v4h-8zM733 143h83v4h-83zM899 143h8v4h-8zM733 147h79v4h-79zM903 147h4v4h-4zM733 151h79v4h-79zM903 151h8v4h-8zM733 155h79v4h-79zM903 155h8v4h-8zM733 159h75v4h-75zM907 159h4v4h-4zM733 163h34v4h-34zM778 163h30v4h-30zM733 167h34v4h-34zM778 167h30v4h-30zM733 171h75v4h-75zM907 171h4v4h-4zM733 175h75v4h-75zM907 175h4v4h-4zM733 179h75v4h-75zM903 179h4v4h-4zM733 183h79v4h-79zM903 183h4v4h-4zM733 187h79v5h-79zM903 187h4v5h-4zM733 192h83v4h-83zM899 192h8v4h-8zM733 196h83v4h-83zM899 196h4v4h-4zM767 200h106v4h-106zM896 200h7v4h-7zM808 204h65v4h-65zM892 204h7v4h-7zM824 208h49v4h-49zM888 208h8v4h-8zM831 212h57v4h-57z"/>
<path fill="#ff4400" d="M843 119h30v4h-30zM835 123h46v4h-46zM827 127h61v4h-61zM824 131h68v4h-68zM820 135h76v4h-76zM816 139h83v4h-83zM816 143h8v4h-8zM846 143h53v4h-53zM812 147h8v4h-8zM854 147h49v4h-49zM812 151h8v4h-8zM858 151h45v4h-45zM812 155h4v4h-4zM862 155h41v4h-41zM808 159h8v4h-8zM862 159h45v4h-45zM767 163h11v4h-11zM808 163h8v4h-8zM862 163h49v4h-49zM767 167h11v4h-11zM808 167h8v4h-8zM862 167h49v4h-49zM808 171h8v4h-8zM862 171h45v4h-45zM808 175h8v4h-8zM862 175h45v4h-45zM808 179h8v4h-8zM862 179h41v4h-41zM812 183h8v4h-8zM865 183h38v4h-38zM812 187h8v5h-8zM865 187h38v5h-38zM816 192h8v4h-8zM865 192h34v4h-34zM816 196h83v4h-83zM873 200h23v4h-23zM873 204h19v4h-19zM873 208h15v4h-15z"/>
<path fill="#d10000" d="M824 143h22v4h-22zM820 147h34v4h-34zM820 151h38v4h-38zM816 155h46v4h-46zM816 159h46v4h-46zM816 163h46v4h-46zM816 167h46v4h-46zM816 171h46v4h-46zM816 175h46v4h-46zM816 179h46v4h-46zM820 183h45v4h-45zM820 187h45v5h-45zM824 192h41v4h-41z"/>
</g>
<g fill="none" stroke="#000" stroke-width="0.85">
<path d="M728.7 57.5L1132.7 60.8A100.4 107.2 0 0 1 1293.0 147.0L1279.5 256.4L1105.8 256.4L1092.4 147.0L1093.0 130.7L884.9 128.2A47.4 50.7 0 0 1 877.7 215.4L837.2 215.4L826.2 207.5L728.7 207.5Z"/>
<path d="M823.4 194.7A41.5 44.4 0 1 1 883.3 204.0L873.9 204.0L873.9 194.7Z"/>
<path d="M736.4 174.6L757.7 174.6L809.5 142.4A53.1 56.7 0 0 0 808.7 193.9L736.4 193.9Z"/>
<ellipse cx="838.7" cy="202.4" rx="3.00" ry="3.00" stroke-width="1"/>
<ellipse cx="845.8" cy="202.4" rx="3.00" ry="3.00" stroke-width="1"/>
<ellipse cx="857.2" cy="209.9" rx="4.60" ry="5.20" stroke-width="1"/>
<ellipse cx="863.8" cy="176.8" rx="8.10" ry="8.10" stroke-width="2.0"/>
<ellipse cx="863.8" cy="175.6" rx="5.30" ry="5.30" stroke-width="1.0"/>
<ellipse cx="863.8" cy="176.3" rx="6.60" ry="6.60" stroke-width="0.8"/>
<ellipse cx="861.9" cy="175.5" rx="1.40" ry="1.40" stroke-width="0.9"/>
<ellipse cx="865.7" cy="175.5" rx="1.40" ry="1.40" stroke-width="0.9"/>
<path d="M863.8 171.0L863.8 180.2"/>
<path d="M859.4 175.5L868.2 175.5"/>
<ellipse cx="881.7" cy="180.5" rx="5.90" ry="5.90" stroke-width="1.3"/>
<ellipse cx="879.4" cy="180.8" rx="2.20" ry="2.20" stroke-width="0.8"/>
<ellipse cx="884.5" cy="181.2" rx="1.30" ry="1.30" stroke-width="0.8"/>
<ellipse cx="882.2" cy="177.0" rx="0.90" ry="0.90" stroke-width="0.7"/>
<ellipse cx="881.2" cy="184.2" rx="0.80" ry="0.80" stroke-width="0.7"/>
<path d="M736.4 65.8L1141.3 69.0A89.3 95.4 0 0 1 1282.1 147.0L1272.0 207.6L1113.8 207.6L1103.5 147.0A89.3 95.4 0 0 1 1106.7 119.7L819.4 116.5L819.4 128.2L757.7 166.3L736.4 166.3Z"/>
</g>
<g font-weight="bold" font-size="12.8">
<text x="948.1" y="89.7">SAFETY</text>
<text x="948.5" y="104.8">TUNNEL</text>
<text x="847.7" y="159.5">LHC</text>
<text x="1180.7" y="98.5">FPF</text>
</g>
<g stroke="#000" stroke-width="0.8" fill="none">
<rect x="709.8" y="33.5" width="607.0" height="243.1"/>
<path d="M719.3 276.6 v-2.2 M719.3 33.5 v2.2 M728.8 276.6 v-2.2 M728.8 33.5 v2.2 M738.3 276.6 v-2.2 M738.3 33.5 v2.2 M747.7 276.6 v-2.2 M747.7 33.5 v2.2 M757.2 276.6 v-2.2 M757.2 33.5 v2.2 M766.7 276.6 v-2.2 M766.7 33.5 v2.2 M776.2 276.6 v-2.2 M776.2 33.5 v2.2 M785.7 276.6 v-4.5 M785.7 33.5 v4.5 M795.2 276.6 v-2.2 M795.2 33.5 v2.2 M804.6 276.6 v-2.2 M804.6 33.5 v2.2 M814.1 276.6 v-2.2 M814.1 33.5 v2.2 M823.6 276.6 v-2.2 M823.6 33.5 v2.2 M833.1 276.6 v-2.2 M833.1 33.5 v2.2 M842.6 276.6 v-2.2 M842.6 33.5 v2.2 M852.1 276.6 v-2.2 M852.1 33.5 v2.2 M861.5 276.6 v-2.2 M861.5 33.5 v2.2 M871.0 276.6 v-2.2 M871.0 33.5 v2.2 M880.5 276.6 v-4.5 M880.5 33.5 v4.5 M890.0 276.6 v-2.2 M890.0 33.5 v2.2 M899.5 276.6 v-2.2 M899.5 33.5 v2.2 M909.0 276.6 v-2.2 M909.0 33.5 v2.2 M918.5 276.6 v-2.2 M918.5 33.5 v2.2 M927.9 276.6 v-2.2 M927.9 33.5 v2.2 M937.4 276.6 v-2.2 M937.4 33.5 v2.2 M946.9 276.6 v-2.2 M946.9 33.5 v2.2 M956.4 276.6 v-2.2 M956.4 33.5 v2.2 M965.9 276.6 v-2.2 M965.9 33.5 v2.2 M975.4 276.6 v-4.5 M975.4 33.5 v4.5 M984.8 276.6 v-2.2 M984.8 33.5 v2.2 M994.3 276.6 v-2.2 M994.3 33.5 v2.2 M1003.8 276.6 v-2.2 M1003.8 33.5 v2.2 M1013.3 276.6 v-2.2 M1013.3 33.5 v2.2 M1022.8 276.6 v-2.2 M1022.8 33.5 v2.2 M1032.3 276.6 v-2.2 M1032.3 33.5 v2.2 M1041.8 276.6 v-2.2 M1041.8 33.5 v2.2 M1051.2 276.6 v-2.2 M1051.2 33.5 v2.2 M1060.7 276.6 v-2.2 M1060.7 33.5 v2.2 M1070.2 276.6 v-4.5 M1070.2 33.5 v4.5 M1079.7 276.6 v-2.2 M1079.7 33.5 v2.2 M1089.2 276.6 v-2.2 M1089.2 33.5 v2.2 M1098.7 276.6 v-2.2 M1098.7 33.5 v2.2 M1108.1 276.6 v-2.2 M1108.1 33.5 v2.2 M1117.6 276.6 v-2.2 M1117.6 33.5 v2.2 M1127.1 276.6 v-2.2 M1127.1 33.5 v2.2 M1136.6 276.6 v-2.2 M1136.6 33.5 v2.2 M1146.1 276.6 v-2.2 M1146.1 33.5 v2.2 M1155.6 276.6 v-2.2 M1155.6 33.5 v2.2 M1165.0 276.6 v-4.5 M1165.0 33.5 v4.5 M1174.5 276.6 v-2.2 M1174.5 33.5 v2.2 M1184.0 276.6 v-2.2 M1184.0 33.5 v2.2 M1193.5 276.6 v-2.2 M1193.5 33.5 v2.2 M1203.0 276.6 v-2.2 M1203.0 33.5 v2.2 M1212.5 276.6 v-2.2 M1212.5 33.5 v2.2 M1222.0 276.6 v-2.2 M1222.0 33.5 v2.2 M1231.4 276.6 v-2.2 M1231.4 33.5 v2.2 M1240.9 276.6 v-2.2 M1240.9 33.5 v2.2 M1250.4 276.6 v-2.2 M1250.4 33.5 v2.2 M1259.9 276.6 v-4.5 M1259.9 33.5 v4.5 M1269.4 276.6 v-2.2 M1269.4 33.5 v2.2 M1278.9 276.6 v-2.2 M1278.9 33.5 v2.2 M1288.3 276.6 v-2.2 M1288.3 33.5 v2.2 M1297.8 276.6 v-2.2 M1297.8 33.5 v2.2 M1307.3 276.6 v-2.2 M1307.3 33.5 v2.2 M709.8 256.3 h9 M1316.8 256.3 h-9 M709.8 236.1 h9 M1316.8 236.1 h-9 M709.8 215.8 h9 M1316.8 215.8 h-9 M709.8 195.6 h9 M1316.8 195.6 h-9 M709.8 175.3 h9 M1316.8 175.3 h-9 M709.8 155.1 h9 M1316.8 155.1 h-9 M709.8 134.8 h9 M1316.8 134.8 h-9 M709.8 114.5 h9 M1316.8 114.5 h-9 M709.8 94.3 h9 M1316.8 94.3 h-9 M709.8 74.0 h9 M1316.8 74.0 h-9 M709.8 53.8 h9 M1316.8 53.8 h-9 "/>
</g>
<g font-size="11" text-anchor="end">
<text x="700.4" y="280.8">-5</text>
<text x="700.4" y="260.5">-4</text>
<text x="700.4" y="240.3">-3</text>
<text x="700.4" y="220.0">-2</text>
<text x="700.4" y="199.8">-1</text>
<text x="700.4" y="179.5">0</text>
<text x="700.4" y="159.2">1</text>
<text x="700.4" y="139.0">2</text>
<text x="700.4" y="118.7">3</text>
<text x="700.4" y="98.5">4</text>
<text x="700.4" y="78.2">5</text>
<text x="700.4" y="58.0">6</text>
<text x="700.4" y="37.7">7</text>
</g>
<g font-size="11" text-anchor="middle">
<text x="785.7" y="289.0">-20</text>
<text x="880.5" y="289.0">-15</text>
<text x="975.4" y="289.0">-10</text>
<text x="1070.2" y="289.0">-5</text>
<text x="1167.2" y="289.0">0</text>
<text x="1262.1" y="289.0">5</text>
</g>
<text font-size="13.1" text-anchor="middle" x="1013.3" y="313.0">x-coordinate [m]</text>
<text font-size="13.1" text-anchor="middle" transform="translate(680.4 155.1) rotate(-90)">y-coordinate [m]</text>
<text font-size="11.85" text-anchor="middle" x="1012.4" y="14.6">b) BEAM 1 LOST IN MB.B15R1 - HL-LHC CONDITIONS - WITHOUT CHICANE</text>
<g shape-rendering="crispEdges">
<path fill="#0000ff" d="M498 403h3v4h-3zM418 407h4v4h-4zM452 407h4v4h-4zM608 439h3v5h-3zM611 444h4v4h-4zM630 492h4v4h-4zM372 504h4v4h-4zM365 508h4v4h-4zM410 525h4v4h-4zM627 525h3v4h-3zM350 533h7v4h-7zM418 533h4v4h-4zM425 537h4v4h-4zM350 541h3v4h-3zM350 549h3v4h-3zM422 549h7v4h-7zM422 553h3v4h-3zM642 557h4v4h-4zM361 565h4v4h-4zM357 569h4v4h-4zM357 585h8v4h-8zM338 593h4v4h-4zM346 593h4v4h-4zM482 593h4v4h-4zM346 602h4v4h-4zM334 610h4v4h-4zM338 614h4v4h-4z"/>
<path fill="#009eff" d="M369 395h3v4h-3zM391 399h8v4h-8zM501 399h4v4h-4zM369 403h11v4h-11zM403 403h3v4h-3zM422 403h3v4h-3zM501 403h4v4h-4zM509 403h4v4h-4zM520 403h19v4h-19zM391 407h4v4h-4zM406 407h4v4h-4zM433 407h8v4h-8zM479 407h3v4h-3zM486 407h4v4h-4zM494 407h7v4h-7zM547 407h4v4h-4zM562 407h4v4h-4zM388 411h3v4h-3zM429 411h4v4h-4zM467 411h4v4h-4zM543 411h4v4h-4zM551 411h15v4h-15zM471 415h8v4h-8zM486 415h4v4h-4zM566 415h7v4h-7zM570 419h3v4h-3zM581 419h4v4h-4zM581 423h8v4h-8zM589 427h7v4h-7zM592 435h4v4h-4zM604 439h4v5h-4zM611 448h4v4h-4zM615 456h4v4h-4zM611 460h4v4h-4zM623 460h4v4h-4zM627 468h3v4h-3zM627 488h3v4h-3zM350 500h7v4h-7zM369 500h3v4h-3zM384 500h4v4h-4zM391 500h12v4h-12zM410 500h8v4h-8zM346 504h4v4h-4zM353 504h4v4h-4zM361 504h11v4h-11zM384 504h4v4h-4zM391 504h8v4h-8zM410 504h4v4h-4zM346 508h7v4h-7zM395 508h4v4h-4zM403 508h3v4h-3zM414 508h4v4h-4zM403 512h3v4h-3zM410 512h4v4h-4zM627 512h3v4h-3zM350 516h7v5h-7zM403 516h3v5h-3zM410 516h8v5h-8zM623 516h4v5h-4zM350 521h3v4h-3zM410 521h4v4h-4zM627 521h3v4h-3zM350 525h3v4h-3zM357 525h4v4h-4zM406 525h4v4h-4zM346 529h4v4h-4zM403 529h3v4h-3zM422 529h3v4h-3zM346 533h4v4h-4zM357 533h4v4h-4zM422 533h3v4h-3zM619 533h8v4h-8zM353 537h8v4h-8zM619 537h4v4h-4zM346 541h4v4h-4zM619 541h4v4h-4zM429 549h4v4h-4zM353 553h4v4h-4zM429 553h4v4h-4zM611 553h4v4h-4zM353 557h4v4h-4zM425 557h8v4h-8zM425 561h8v4h-8zM611 561h8v4h-8zM346 565h7v4h-7zM429 565h4v4h-4zM611 565h4v4h-4zM346 569h4v4h-4zM425 569h4v4h-4zM608 569h3v4h-3zM342 573h4v4h-4zM422 573h3v4h-3zM429 573h4v4h-4zM437 577h11v4h-11zM596 577h4v4h-4zM346 581h7v4h-7zM448 581h4v4h-4zM592 581h8v4h-8zM589 585h3v4h-3zM334 589h8v4h-8zM456 589h7v4h-7zM467 589h4v4h-4zM566 589h4v4h-4zM334 593h4v4h-4zM342 593h4v4h-4zM471 593h4v4h-4zM486 593h4v4h-4zM501 593h4v4h-4zM524 593h8v4h-8zM566 593h4v4h-4zM589 593h3v4h-3zM338 597h4v5h-4zM490 597h4v5h-4zM513 597h7v5h-7zM543 597h8v5h-8zM558 597h4v5h-4zM334 602h4v4h-4zM554 602h4v4h-4zM334 606h8v4h-8zM334 614h4v4h-4zM327 618h7v4h-7zM327 622h7v4h-7zM331 626h3v4h-3zM323 630h4v4h-4zM331 630h3v4h-3zM323 634h8v4h-8z"/>
<path fill="#00c7e8" d="M361 395h8v4h-8zM365 399h4v4h-4zM361 403h8v4h-8zM369 407h11v4h-11zM384 407h4v4h-4zM399 407h4v4h-4zM410 407h4v4h-4zM482 407h4v4h-4zM501 407h42v4h-42zM372 411h16v4h-16zM391 411h38v4h-38zM433 411h27v4h-27zM471 411h4v4h-4zM479 411h30v4h-30zM517 411h7v4h-7zM532 411h11v4h-11zM547 411h4v4h-4zM638 411h4v4h-4zM372 415h8v4h-8zM384 415h4v4h-4zM391 415h4v4h-4zM448 415h4v4h-4zM456 415h15v4h-15zM479 415h7v4h-7zM494 415h4v4h-4zM543 415h23v4h-23zM384 419h4v4h-4zM437 419h4v4h-4zM444 419h4v4h-4zM463 419h19v4h-19zM551 419h3v4h-3zM562 419h8v4h-8zM471 423h4v4h-4zM554 423h4v4h-4zM566 423h15v4h-15zM577 427h12v4h-12zM577 431h4v4h-4zM585 431h11v4h-11zM589 435h3v4h-3zM596 435h8v4h-8zM581 439h4v5h-4zM596 439h8v5h-8zM604 444h7v4h-7zM608 448h3v4h-3zM608 452h7v4h-7zM642 452h4v4h-4zM608 456h7v4h-7zM615 460h4v4h-4zM630 460h4v4h-4zM611 464h8v4h-8zM611 468h16v4h-16zM619 472h8v4h-8zM623 476h4v4h-4zM615 480h12v4h-12zM623 484h4v4h-4zM346 488h4v4h-4zM623 488h4v4h-4zM369 492h3v4h-3zM395 492h4v4h-4zM403 492h7v4h-7zM418 492h4v4h-4zM619 492h8v4h-8zM342 496h80v4h-80zM615 496h4v4h-4zM623 496h4v4h-4zM338 500h12v4h-12zM357 500h12v4h-12zM372 500h12v4h-12zM388 500h3v4h-3zM403 500h7v4h-7zM418 500h4v4h-4zM619 500h8v4h-8zM342 504h4v4h-4zM350 504h3v4h-3zM357 504h4v4h-4zM388 504h3v4h-3zM414 504h8v4h-8zM623 504h4v4h-4zM342 508h4v4h-4zM391 508h4v4h-4zM418 508h4v4h-4zM623 508h4v4h-4zM342 512h11v4h-11zM372 512h4v4h-4zM414 512h8v4h-8zM615 512h4v4h-4zM623 512h4v4h-4zM342 516h8v5h-8zM418 516h4v5h-4zM342 521h8v4h-8zM414 521h8v4h-8zM425 521h4v4h-4zM619 521h8v4h-8zM338 525h12v4h-12zM414 525h15v4h-15zM619 525h8v4h-8zM342 529h4v4h-4zM414 529h8v4h-8zM425 529h8v4h-8zM619 529h8v4h-8zM342 533h4v4h-4zM429 533h4v4h-4zM437 533h4v4h-4zM611 533h8v4h-8zM334 537h19v4h-19zM429 537h4v4h-4zM608 537h3v4h-3zM615 537h4v4h-4zM338 541h8v4h-8zM357 541h4v4h-4zM422 541h11v4h-11zM437 541h4v4h-4zM611 541h8v4h-8zM331 545h19v4h-19zM422 545h11v4h-11zM608 545h11v4h-11zM334 549h16v4h-16zM418 549h4v4h-4zM433 549h8v4h-8zM611 549h4v4h-4zM338 553h12v4h-12zM425 553h4v4h-4zM433 553h4v4h-4zM604 553h7v4h-7zM338 557h12v4h-12zM433 557h4v4h-4zM608 557h7v4h-7zM338 561h12v4h-12zM433 561h4v4h-4zM608 561h3v4h-3zM338 565h8v4h-8zM433 565h4v4h-4zM608 565h3v4h-3zM638 565h4v4h-4zM331 569h15v4h-15zM350 569h3v4h-3zM429 569h12v4h-12zM444 569h4v4h-4zM604 569h4v4h-4zM331 573h11v4h-11zM350 573h3v4h-3zM433 573h175v4h-175zM331 577h19v4h-19zM448 577h148v4h-148zM600 577h4v4h-4zM331 581h15v4h-15zM406 581h4v4h-4zM452 581h140v4h-140zM327 585h15v4h-15zM452 585h4v4h-4zM460 585h129v4h-129zM323 589h11v4h-11zM353 589h4v4h-4zM365 589h4v4h-4zM471 589h95v4h-95zM570 589h15v4h-15zM327 593h7v4h-7zM494 593h7v4h-7zM505 593h19v4h-19zM532 593h30v4h-30zM327 597h11v5h-11zM509 597h4v5h-4zM323 602h11v4h-11zM323 606h11v4h-11zM323 610h8v4h-8zM319 614h15v4h-15zM315 618h12v4h-12zM319 622h8v4h-8zM319 626h12v4h-12zM312 630h11v4h-11zM327 630h4v4h-4zM315 634h8v4h-8z"/>
<path fill="#00c85a" d="M342 395h19v4h-19zM346 399h19v4h-19zM346 403h15v4h-15zM350 407h19v4h-19zM353 411h19v4h-19zM509 411h8v4h-8zM524 411h8v4h-8zM361 415h11v4h-11zM380 415h4v4h-4zM388 415h3v4h-3zM395 415h53v4h-53zM452 415h4v4h-4zM490 415h4v4h-4zM498 415h34v4h-34zM535 415h8v4h-8zM365 419h19v4h-19zM388 419h49v4h-49zM441 419h3v4h-3zM448 419h15v4h-15zM482 419h16v4h-16zM505 419h19v4h-19zM528 419h23v4h-23zM558 419h4v4h-4zM425 423h46v4h-46zM475 423h4v4h-4zM482 423h4v4h-4zM490 423h11v4h-11zM509 423h23v4h-23zM547 423h7v4h-7zM558 423h8v4h-8zM425 427h27v4h-27zM463 427h8v4h-8zM475 427h4v4h-4zM501 427h23v4h-23zM532 427h7v4h-7zM543 427h15v4h-15zM566 427h11v4h-11zM460 431h30v4h-30zM498 431h7v4h-7zM513 431h7v4h-7zM532 431h3v4h-3zM539 431h4v4h-4zM547 431h11v4h-11zM562 431h4v4h-4zM570 431h3v4h-3zM581 431h4v4h-4zM456 435h7v4h-7zM467 435h4v4h-4zM475 435h4v4h-4zM482 435h8v4h-8zM498 435h11v4h-11zM513 435h4v4h-4zM528 435h15v4h-15zM551 435h3v4h-3zM558 435h12v4h-12zM573 435h16v4h-16zM452 439h8v5h-8zM467 439h15v5h-15zM490 439h15v5h-15zM509 439h4v5h-4zM517 439h3v5h-3zM524 439h4v5h-4zM535 439h4v5h-4zM554 439h4v5h-4zM562 439h4v5h-4zM570 439h11v5h-11zM585 439h11v5h-11zM448 444h19v4h-19zM486 444h4v4h-4zM494 444h4v4h-4zM524 444h4v4h-4zM532 444h3v4h-3zM539 444h4v4h-4zM547 444h4v4h-4zM554 444h8v4h-8zM573 444h12v4h-12zM589 444h15v4h-15zM444 448h8v4h-8zM456 448h7v4h-7zM471 448h11v4h-11zM486 448h4v4h-4zM498 448h3v4h-3zM509 448h4v4h-4zM524 448h19v4h-19zM562 448h4v4h-4zM570 448h3v4h-3zM577 448h8v4h-8zM589 448h19v4h-19zM444 452h8v4h-8zM475 452h4v4h-4zM524 452h4v4h-4zM535 452h12v4h-12zM554 452h8v4h-8zM566 452h4v4h-4zM573 452h4v4h-4zM589 452h19v4h-19zM441 456h3v4h-3zM452 456h8v4h-8zM471 456h4v4h-4zM486 456h4v4h-4zM528 456h4v4h-4zM551 456h11v4h-11zM589 456h19v4h-19zM437 460h7v4h-7zM479 460h3v4h-3zM494 460h7v4h-7zM517 460h3v4h-3zM524 460h4v4h-4zM535 460h4v4h-4zM551 460h7v4h-7zM566 460h7v4h-7zM577 460h12v4h-12zM592 460h19v4h-19zM437 464h4v4h-4zM448 464h4v4h-4zM463 464h4v4h-4zM482 464h4v4h-4zM498 464h3v4h-3zM509 464h4v4h-4zM535 464h4v4h-4zM547 464h4v4h-4zM566 464h4v4h-4zM589 464h3v4h-3zM596 464h15v4h-15zM433 468h8v4h-8zM444 468h4v4h-4zM456 468h4v4h-4zM475 468h4v4h-4zM494 468h4v4h-4zM501 468h8v4h-8zM532 468h3v4h-3zM558 468h4v4h-4zM566 468h4v4h-4zM604 468h7v4h-7zM433 472h4v4h-4zM448 472h4v4h-4zM479 472h3v4h-3zM490 472h4v4h-4zM505 472h4v4h-4zM520 472h4v4h-4zM585 472h4v4h-4zM604 472h15v4h-15zM433 476h4v4h-4zM444 476h4v4h-4zM456 476h4v4h-4zM513 476h4v4h-4zM524 476h4v4h-4zM547 476h4v4h-4zM566 476h4v4h-4zM573 476h4v4h-4zM585 476h4v4h-4zM592 476h4v4h-4zM604 476h19v4h-19zM429 480h8v4h-8zM467 480h4v4h-4zM524 480h4v4h-4zM558 480h4v4h-4zM573 480h4v4h-4zM585 480h4v4h-4zM592 480h4v4h-4zM600 480h4v4h-4zM608 480h7v4h-7zM327 484h95v4h-95zM429 484h8v4h-8zM448 484h4v4h-4zM460 484h3v4h-3zM486 484h4v4h-4zM509 484h4v4h-4zM517 484h3v4h-3zM535 484h4v4h-4zM547 484h4v4h-4zM554 484h4v4h-4zM566 484h11v4h-11zM604 484h19v4h-19zM327 488h19v4h-19zM350 488h72v4h-72zM429 488h4v4h-4zM463 488h4v4h-4zM524 488h4v4h-4zM532 488h3v4h-3zM547 488h4v4h-4zM592 488h4v4h-4zM600 488h23v4h-23zM327 492h42v4h-42zM372 492h23v4h-23zM399 492h4v4h-4zM410 492h8v4h-8zM422 492h3v4h-3zM429 492h4v4h-4zM444 492h4v4h-4zM498 492h3v4h-3zM509 492h4v4h-4zM520 492h4v4h-4zM558 492h4v4h-4zM573 492h4v4h-4zM596 492h4v4h-4zM608 492h11v4h-11zM327 496h15v4h-15zM422 496h26v4h-26zM482 496h4v4h-4zM498 496h3v4h-3zM535 496h4v4h-4zM551 496h3v4h-3zM566 496h11v4h-11zM581 496h11v4h-11zM596 496h4v4h-4zM608 496h7v4h-7zM619 496h4v4h-4zM327 500h11v4h-11zM422 500h197v4h-197zM327 504h15v4h-15zM422 504h201v4h-201zM327 508h15v4h-15zM422 508h201v4h-201zM327 512h15v4h-15zM422 512h193v4h-193zM619 512h4v4h-4zM327 516h15v5h-15zM422 516h201v5h-201zM327 521h15v4h-15zM422 521h3v4h-3zM429 521h190v4h-190zM327 525h11v4h-11zM429 525h190v4h-190zM327 529h15v4h-15zM433 529h186v4h-186zM327 533h15v4h-15zM433 533h4v4h-4zM441 533h170v4h-170zM327 537h7v4h-7zM433 537h175v4h-175zM611 537h4v4h-4zM327 541h11v4h-11zM433 541h4v4h-4zM441 541h170v4h-170zM327 545h4v4h-4zM433 545h175v4h-175zM327 549h7v4h-7zM441 549h170v4h-170zM323 553h15v4h-15zM437 553h167v4h-167zM323 557h15v4h-15zM437 557h171v4h-171zM323 561h15v4h-15zM437 561h171v4h-171zM319 565h19v4h-19zM437 565h171v4h-171zM319 569h12v4h-12zM441 569h3v4h-3zM448 569h156v4h-156zM319 573h12v4h-12zM315 577h16v4h-16zM315 581h16v4h-16zM312 585h15v4h-15zM312 589h11v4h-11zM308 593h19v4h-19zM308 597h19v5h-19zM304 602h19v4h-19zM304 606h19v4h-19zM300 610h23v4h-23zM38 614h12v4h-12zM300 614h19v4h-19zM38 618h23v4h-23zM296 618h19v4h-19zM38 622h31v4h-31zM293 622h26v4h-26zM38 626h35v4h-35zM293 626h26v4h-26zM38 630h42v4h-42zM289 630h23v4h-23zM38 634h46v4h-46zM285 634h30v4h-30z"/>
<path fill="#3cf01e" d="M304 395h38v4h-38zM312 399h34v4h-34zM315 403h31v4h-31zM323 407h27v4h-27zM327 411h26v4h-26zM334 415h27v4h-27zM532 415h3v4h-3zM338 419h27v4h-27zM498 419h7v4h-7zM524 419h4v4h-4zM554 419h4v4h-4zM342 423h83v4h-83zM479 423h3v4h-3zM486 423h4v4h-4zM501 423h8v4h-8zM532 423h15v4h-15zM342 427h83v4h-83zM452 427h11v4h-11zM471 427h4v4h-4zM479 427h22v4h-22zM524 427h8v4h-8zM539 427h4v4h-4zM558 427h8v4h-8zM448 431h12v4h-12zM490 431h8v4h-8zM505 431h8v4h-8zM520 431h12v4h-12zM535 431h4v4h-4zM543 431h4v4h-4zM558 431h4v4h-4zM566 431h4v4h-4zM573 431h4v4h-4zM448 435h8v4h-8zM463 435h4v4h-4zM471 435h4v4h-4zM479 435h3v4h-3zM490 435h8v4h-8zM509 435h4v4h-4zM517 435h11v4h-11zM543 435h8v4h-8zM554 435h4v4h-4zM570 435h3v4h-3zM444 439h8v5h-8zM460 439h7v5h-7zM482 439h8v5h-8zM505 439h4v5h-4zM513 439h4v5h-4zM520 439h4v5h-4zM528 439h7v5h-7zM539 439h15v5h-15zM558 439h4v5h-4zM566 439h4v5h-4zM441 444h7v4h-7zM467 444h19v4h-19zM490 444h4v4h-4zM498 444h26v4h-26zM528 444h4v4h-4zM535 444h4v4h-4zM543 444h4v4h-4zM551 444h3v4h-3zM562 444h11v4h-11zM585 444h4v4h-4zM437 448h7v4h-7zM452 448h4v4h-4zM463 448h8v4h-8zM482 448h4v4h-4zM490 448h8v4h-8zM501 448h8v4h-8zM513 448h11v4h-11zM543 448h19v4h-19zM566 448h4v4h-4zM573 448h4v4h-4zM585 448h4v4h-4zM437 452h7v4h-7zM452 452h23v4h-23zM479 452h45v4h-45zM528 452h7v4h-7zM547 452h7v4h-7zM562 452h4v4h-4zM570 452h3v4h-3zM577 452h12v4h-12zM433 456h8v4h-8zM444 456h8v4h-8zM460 456h11v4h-11zM475 456h11v4h-11zM490 456h38v4h-38zM532 456h19v4h-19zM562 456h27v4h-27zM433 460h4v4h-4zM444 460h35v4h-35zM482 460h12v4h-12zM501 460h16v4h-16zM520 460h4v4h-4zM528 460h7v4h-7zM539 460h12v4h-12zM558 460h8v4h-8zM573 460h4v4h-4zM589 460h3v4h-3zM429 464h8v4h-8zM441 464h7v4h-7zM452 464h11v4h-11zM467 464h15v4h-15zM486 464h12v4h-12zM501 464h8v4h-8zM513 464h22v4h-22zM539 464h8v4h-8zM551 464h15v4h-15zM570 464h19v4h-19zM592 464h4v4h-4zM429 468h4v4h-4zM441 468h3v4h-3zM448 468h8v4h-8zM460 468h15v4h-15zM479 468h15v4h-15zM498 468h3v4h-3zM509 468h23v4h-23zM535 468h23v4h-23zM562 468h4v4h-4zM570 468h34v4h-34zM425 472h8v4h-8zM437 472h11v4h-11zM452 472h27v4h-27zM482 472h8v4h-8zM494 472h11v4h-11zM509 472h11v4h-11zM524 472h61v4h-61zM589 472h15v4h-15zM425 476h8v4h-8zM437 476h7v4h-7zM448 476h8v4h-8zM460 476h53v4h-53zM517 476h7v4h-7zM528 476h19v4h-19zM551 476h15v4h-15zM570 476h3v4h-3zM577 476h8v4h-8zM589 476h3v4h-3zM596 476h8v4h-8zM300 480h129v4h-129zM437 480h30v4h-30zM471 480h53v4h-53zM528 480h30v4h-30zM562 480h11v4h-11zM577 480h8v4h-8zM589 480h3v4h-3zM596 480h4v4h-4zM604 480h4v4h-4zM300 484h27v4h-27zM422 484h7v4h-7zM437 484h11v4h-11zM452 484h8v4h-8zM463 484h23v4h-23zM490 484h19v4h-19zM513 484h4v4h-4zM520 484h15v4h-15zM539 484h8v4h-8zM551 484h3v4h-3zM558 484h8v4h-8zM577 484h27v4h-27zM300 488h27v4h-27zM422 488h7v4h-7zM433 488h30v4h-30zM467 488h57v4h-57zM528 488h4v4h-4zM535 488h12v4h-12zM551 488h41v4h-41zM596 488h4v4h-4zM304 492h23v4h-23zM425 492h4v4h-4zM433 492h11v4h-11zM448 492h50v4h-50zM501 492h8v4h-8zM513 492h7v4h-7zM524 492h34v4h-34zM562 492h11v4h-11zM577 492h19v4h-19zM600 492h8v4h-8zM304 496h23v4h-23zM448 496h34v4h-34zM486 496h12v4h-12zM501 496h34v4h-34zM539 496h12v4h-12zM554 496h12v4h-12zM577 496h4v4h-4zM592 496h4v4h-4zM600 496h8v4h-8zM304 500h23v4h-23zM304 504h23v4h-23zM304 508h23v4h-23zM304 512h23v4h-23zM304 516h23v5h-23zM304 521h23v4h-23zM304 525h23v4h-23zM304 529h23v4h-23zM304 533h23v4h-23zM304 537h23v4h-23zM304 541h23v4h-23zM304 545h23v4h-23zM300 549h27v4h-27zM300 553h23v4h-23zM300 557h23v4h-23zM300 561h23v4h-23zM300 565h19v4h-19zM296 569h23v4h-23zM296 573h23v4h-23zM296 577h19v4h-19zM293 581h22v4h-22zM293 585h19v4h-19zM38 589h8v4h-8zM289 589h23v4h-23zM38 593h16v4h-16zM285 593h23v4h-23zM38 597h23v5h-23zM285 597h23v5h-23zM38 602h31v4h-31zM281 602h23v4h-23zM38 606h35v4h-35zM278 606h26v4h-26zM38 610h42v4h-42zM274 610h26v4h-26zM50 614h34v4h-34zM270 614h30v4h-30zM61 618h31v4h-31zM266 618h30v4h-30zM69 622h30v4h-30zM262 622h31v4h-31zM73 626h30v4h-30zM259 626h34v4h-34zM80 630h31v4h-31zM259 630h30v4h-30zM84 634h30v4h-30zM255 634h30v4h-30z"/>
<path fill="#a2ff00" d="M38 395h73v4h-73zM255 395h49v4h-49zM38 399h31v4h-31zM262 399h50v4h-50zM38 403h12v4h-12zM270 403h45v4h-45zM38 407h4v4h-4zM278 407h45v4h-45zM285 411h42v4h-42zM293 415h41v4h-41zM296 419h42v4h-42zM319 423h23v4h-23zM319 427h23v4h-23zM323 431h125v4h-125zM323 435h125v4h-125zM323 439h121v5h-121zM323 444h118v4h-118zM323 448h114v4h-114zM323 452h114v4h-114zM323 456h110v4h-110zM323 460h110v4h-110zM323 464h106v4h-106zM323 468h106v4h-106zM323 472h102v4h-102zM323 476h102v4h-102zM274 480h26v4h-26zM278 484h22v4h-22zM278 488h22v4h-22zM281 492h23v4h-23zM281 496h23v4h-23zM281 500h23v4h-23zM281 504h23v4h-23zM281 508h23v4h-23zM281 512h23v4h-23zM281 516h23v5h-23zM281 521h23v4h-23zM281 525h23v4h-23zM281 529h23v4h-23zM281 533h23v4h-23zM281 537h23v4h-23zM281 541h23v4h-23zM278 545h26v4h-26zM278 549h22v4h-22zM278 553h22v4h-22zM278 557h22v4h-22zM274 561h26v4h-26zM274 565h26v4h-26zM274 569h22v4h-22zM270 573h26v4h-26zM38 577h12v4h-12zM266 577h30v4h-30zM38 581h27v4h-27zM266 581h27v4h-27zM38 585h38v4h-38zM262 585h31v4h-31zM46 589h42v4h-42zM259 589h30v4h-30zM54 593h45v4h-45zM259 593h26v4h-26zM61 597h46v5h-46zM255 597h30v5h-30zM69 602h45v4h-45zM251 602h30v4h-30zM73 606h49v4h-49zM247 606h31v4h-31zM80 610h50v4h-50zM240 610h34v4h-34zM84 614h57v4h-57zM236 614h34v4h-34zM92 618h57v4h-57zM228 618h38v4h-38zM99 622h57v4h-57zM217 622h45v4h-45zM103 626h68v4h-68zM202 626h57v4h-57zM111 630h148v4h-148zM114 634h141v4h-141z"/>
<path fill="#e8ff00" d="M111 395h144v4h-144zM69 399h193v4h-193zM50 403h220v4h-220zM42 407h129v4h-129zM209 407h69v4h-69zM38 411h107v4h-107zM228 411h57v4h-57zM38 415h84v4h-84zM247 415h46v4h-46zM38 419h19v4h-19zM259 419h37v4h-37zM38 423h19v4h-19zM262 423h57v4h-57zM38 427h19v4h-19zM274 427h45v4h-45zM38 431h19v4h-19zM278 431h45v4h-45zM38 435h19v4h-19zM278 435h45v4h-45zM38 439h19v5h-19zM278 439h45v5h-45zM38 444h19v4h-19zM278 444h45v4h-45zM38 448h19v4h-19zM278 448h45v4h-45zM38 452h19v4h-19zM278 452h45v4h-45zM38 456h16v4h-16zM278 456h45v4h-45zM38 460h16v4h-16zM278 460h45v4h-45zM38 464h16v4h-16zM274 464h49v4h-49zM38 468h16v4h-16zM274 468h49v4h-49zM38 472h16v4h-16zM270 472h53v4h-53zM38 476h16v4h-16zM262 476h61v4h-61zM38 480h12v4h-12zM251 480h23v4h-23zM38 484h12v4h-12zM251 484h27v4h-27zM38 488h12v4h-12zM251 488h27v4h-27zM38 492h12v4h-12zM259 492h22v4h-22zM38 496h12v4h-12zM259 496h22v4h-22zM38 500h12v4h-12zM262 500h19v4h-19zM38 504h12v4h-12zM262 504h19v4h-19zM38 508h12v4h-12zM262 508h19v4h-19zM38 512h8v4h-8zM262 512h19v4h-19zM38 516h8v5h-8zM262 516h19v5h-19zM38 521h8v4h-8zM262 521h19v4h-19zM38 525h8v4h-8zM262 525h19v4h-19zM38 529h8v4h-8zM262 529h19v4h-19zM38 533h8v4h-8zM262 533h19v4h-19zM38 537h8v4h-8zM262 537h19v4h-19zM38 541h8v4h-8zM262 541h19v4h-19zM38 545h8v4h-8zM262 545h16v4h-16zM38 549h8v4h-8zM262 549h16v4h-16zM38 553h8v4h-8zM262 553h16v4h-16zM38 557h12v4h-12zM259 557h19v4h-19zM38 561h12v4h-12zM259 561h15v4h-15zM38 565h12v4h-12zM259 565h15v4h-15zM38 569h16v4h-16zM255 569h19v4h-19zM38 573h31v4h-31zM251 573h19v4h-19zM50 577h42v4h-42zM251 577h15v4h-15zM65 581h38v4h-38zM247 581h19v4h-19zM76 585h38v4h-38zM243 585h19v4h-19zM88 589h42v4h-42zM240 589h19v4h-19zM99 593h42v4h-42zM232 593h27v4h-27zM107 597h45v5h-45zM221 597h34v5h-34zM114 602h137v4h-137zM122 606h125v4h-125zM130 610h110v4h-110zM141 614h95v4h-95zM149 618h79v4h-79zM156 622h61v4h-61zM171 626h31v4h-31z"/>
<path fill="#ffdf00" d="M171 407h38v4h-38zM145 411h83v4h-83zM122 415h125v4h-125zM57 419h202v4h-202zM57 423h205v4h-205zM57 427h8v4h-8zM190 427h84v4h-84zM57 431h8v4h-8zM198 431h80v4h-80zM57 435h8v4h-8zM205 435h73v4h-73zM57 439h8v5h-8zM205 439h73v5h-73zM57 444h8v4h-8zM209 444h69v4h-69zM57 448h8v4h-8zM213 448h65v4h-65zM57 452h4v4h-4zM213 452h65v4h-65zM54 456h7v4h-7zM213 456h65v4h-65zM54 460h7v4h-7zM213 460h65v4h-65zM54 464h7v4h-7zM213 464h61v4h-61zM54 468h7v4h-7zM213 468h61v4h-61zM54 472h3v4h-3zM213 472h57v4h-57zM213 476h49v4h-49zM50 480h4v4h-4zM224 480h27v4h-27zM50 484h4v4h-4zM232 484h19v4h-19zM50 488h4v4h-4zM236 488h15v4h-15zM50 492h4v4h-4zM240 492h19v4h-19zM50 496h4v4h-4zM240 496h19v4h-19zM50 500h4v4h-4zM240 500h22v4h-22zM50 504h4v4h-4zM243 504h19v4h-19zM50 508h4v4h-4zM243 508h19v4h-19zM46 512h8v4h-8zM243 512h19v4h-19zM46 516h8v5h-8zM243 516h19v5h-19zM46 521h8v4h-8zM243 521h19v4h-19zM46 525h8v4h-8zM243 525h19v4h-19zM46 529h8v4h-8zM243 529h19v4h-19zM46 533h8v4h-8zM243 533h19v4h-19zM46 537h8v4h-8zM243 537h19v4h-19zM46 541h8v4h-8zM243 541h19v4h-19zM46 545h8v4h-8zM243 545h19v4h-19zM46 549h8v4h-8zM243 549h19v4h-19zM46 553h8v4h-8zM240 553h22v4h-22zM50 557h4v4h-4zM240 557h19v4h-19zM50 561h4v4h-4zM236 561h23v4h-23zM50 565h7v4h-7zM236 565h23v4h-23zM54 569h76v4h-76zM232 569h23v4h-23zM69 573h83v4h-83zM228 573h23v4h-23zM92 577h68v4h-68zM221 577h30v4h-30zM103 581h144v4h-144zM114 585h129v4h-129zM130 589h110v4h-110zM141 593h91v4h-91zM152 597h69v5h-69z"/>
<path fill="#ff9400" d="M65 427h125v4h-125zM65 431h133v4h-133zM65 435h140v4h-140zM65 439h140v5h-140zM65 444h144v4h-144zM65 448h148v4h-148zM61 452h152v4h-152zM61 456h152v4h-152zM61 460h152v4h-152zM61 464h152v4h-152zM61 468h152v4h-152zM57 472h156v4h-156zM54 476h159v4h-159zM54 480h110v4h-110zM209 480h15v4h-15zM54 484h7v4h-7zM73 484h79v4h-79zM213 484h19v4h-19zM54 488h7v4h-7zM80 488h69v4h-69zM217 488h19v4h-19zM54 492h7v4h-7zM92 492h53v4h-53zM221 492h19v4h-19zM54 496h7v4h-7zM99 496h42v4h-42zM224 496h16v4h-16zM54 500h7v4h-7zM114 500h23v4h-23zM228 500h12v4h-12zM54 504h7v4h-7zM126 504h11v4h-11zM228 504h15v4h-15zM54 508h7v4h-7zM232 508h11v4h-11zM54 512h7v4h-7zM232 512h11v4h-11zM54 516h7v5h-7zM232 516h11v5h-11zM54 521h7v4h-7zM232 521h11v4h-11zM54 525h7v4h-7zM236 525h7v4h-7zM54 529h7v4h-7zM236 529h7v4h-7zM54 533h34v4h-34zM236 533h7v4h-7zM54 537h38v4h-38zM236 537h7v4h-7zM54 541h41v4h-41zM236 541h7v4h-7zM54 545h45v4h-45zM232 545h11v4h-11zM54 549h49v4h-49zM232 549h11v4h-11zM54 553h53v4h-53zM232 553h8v4h-8zM54 557h57v4h-57zM232 557h8v4h-8zM54 561h76v4h-76zM228 561h8v4h-8zM57 565h99v4h-99zM228 565h8v4h-8zM130 569h102v4h-102zM152 573h76v4h-76zM160 577h61v4h-61z"/>
<path fill="#ff4400" d="M164 480h45v4h-45zM61 484h12v4h-12zM152 484h61v4h-61zM61 488h19v4h-19zM149 488h15v4h-15zM186 488h31v4h-31zM61 492h31v4h-31zM145 492h11v4h-11zM194 492h27v4h-27zM61 496h38v4h-38zM141 496h11v4h-11zM198 496h26v4h-26zM61 500h53v4h-53zM137 500h12v4h-12zM202 500h26v4h-26zM61 504h65v4h-65zM137 504h8v4h-8zM205 504h23v4h-23zM61 508h84v4h-84zM209 508h23v4h-23zM61 512h80v4h-80zM213 512h19v4h-19zM61 516h80v5h-80zM213 516h19v5h-19zM61 521h76v4h-76zM213 521h19v4h-19zM61 525h76v4h-76zM213 525h23v4h-23zM61 529h76v4h-76zM213 529h23v4h-23zM88 533h49v4h-49zM213 533h23v4h-23zM92 537h45v4h-45zM213 537h23v4h-23zM95 541h42v4h-42zM213 541h23v4h-23zM99 545h38v4h-38zM213 545h19v4h-19zM103 549h34v4h-34zM209 549h23v4h-23zM107 553h30v4h-30zM209 553h23v4h-23zM111 557h30v4h-30zM209 557h23v4h-23zM130 561h98v4h-98zM156 565h72v4h-72z"/>
<path fill="#d10000" d="M164 488h22v4h-22zM156 492h38v4h-38zM152 496h46v4h-46zM149 500h53v4h-53zM145 504h60v4h-60zM145 508h64v4h-64zM141 512h72v4h-72zM141 516h72v5h-72zM137 521h76v4h-76zM137 525h76v4h-76zM137 529h76v4h-76zM137 533h76v4h-76zM137 537h76v4h-76zM137 541h76v4h-76zM137 545h76v4h-76zM137 549h72v4h-72zM137 553h72v4h-72zM141 557h68v4h-68z"/>
</g>
<g fill="none" stroke="#000" stroke-width="0.85">
<path d="M58.4 418.9L461.4 422.2A100.4 107.2 0 0 1 621.7 508.4L608.2 617.8L434.5 617.8L421.1 508.4L421.7 492.1L213.6 489.6A47.4 50.7 0 0 1 206.4 576.8L165.9 576.8L154.9 568.9L58.4 568.9Z"/>
<path d="M65.4 535.8L85.4 535.8L106.7 556.0L65.4 556.0Z"/>
<ellipse cx="165.8" cy="563.8" rx="3.00" ry="3.00" stroke-width="1"/>
<ellipse cx="172.9" cy="563.8" rx="3.00" ry="3.00" stroke-width="1"/>
<ellipse cx="184.3" cy="571.3" rx="4.60" ry="5.20" stroke-width="1"/>
<ellipse cx="190.9" cy="538.2" rx="8.10" ry="8.10" stroke-width="2.0"/>
<ellipse cx="190.9" cy="537.0" rx="5.30" ry="5.30" stroke-width="1.0"/>
<ellipse cx="190.9" cy="537.7" rx="6.60" ry="6.60" stroke-width="0.8"/>
<ellipse cx="189.0" cy="536.9" rx="1.40" ry="1.40" stroke-width="0.9"/>
<ellipse cx="192.8" cy="536.9" rx="1.40" ry="1.40" stroke-width="0.9"/>
<path d="M190.9 532.4L190.9 541.6"/>
<path d="M186.5 536.9L195.3 536.9"/>
<ellipse cx="208.8" cy="541.9" rx="5.90" ry="5.90" stroke-width="1.3"/>
<ellipse cx="206.5" cy="542.2" rx="2.20" ry="2.20" stroke-width="0.8"/>
<ellipse cx="211.6" cy="542.6" rx="1.30" ry="1.30" stroke-width="0.8"/>
<ellipse cx="209.3" cy="538.4" rx="0.90" ry="0.90" stroke-width="0.7"/>
<ellipse cx="208.3" cy="545.6" rx="0.80" ry="0.80" stroke-width="0.7"/>
<path d="M65.4 427.7L320.4 429.5L320.4 479.0L147.9 477.7L147.9 489.0L133.7 512.7L148.4 512.7A41.5 44.4 0 1 1 212.0 565.4L202.6 565.4L202.6 556.1L114.2 555.8L85.4 527.7L65.4 527.7Z"/>
<path d="M328.2 429.5L451.9 430.7A100.4 107.2 0 0 0 424.4 480.3L328.2 479.0Z"/>
<path d="M432.2 508.4A89.3 95.4 0 0 1 521.4 413.0A89.3 95.4 0 0 1 610.8 508.4L600.7 569.0L442.5 569.0Z"/>
</g>
<g font-weight="bold" font-size="12.8">
<text x="276.8" y="451.1">SAFETY</text>
<text x="277.2" y="466.2">TUNNEL</text>
<text x="176.4" y="520.9">LHC</text>
<text x="509.4" y="459.9">FPF</text>
</g>
<g stroke="#000" stroke-width="0.8" fill="none">
<rect x="38.5" y="394.9" width="607.0" height="243.1"/>
<path d="M48.0 638.0 v-2.2 M48.0 394.9 v2.2 M57.5 638.0 v-2.2 M57.5 394.9 v2.2 M67.0 638.0 v-2.2 M67.0 394.9 v2.2 M76.4 638.0 v-2.2 M76.4 394.9 v2.2 M85.9 638.0 v-2.2 M85.9 394.9 v2.2 M95.4 638.0 v-2.2 M95.4 394.9 v2.2 M104.9 638.0 v-2.2 M104.9 394.9 v2.2 M114.4 638.0 v-4.5 M114.4 394.9 v4.5 M123.9 638.0 v-2.2 M123.9 394.9 v2.2 M133.3 638.0 v-2.2 M133.3 394.9 v2.2 M142.8 638.0 v-2.2 M142.8 394.9 v2.2 M152.3 638.0 v-2.2 M152.3 394.9 v2.2 M161.8 638.0 v-2.2 M161.8 394.9 v2.2 M171.3 638.0 v-2.2 M171.3 394.9 v2.2 M180.8 638.0 v-2.2 M180.8 394.9 v2.2 M190.2 638.0 v-2.2 M190.2 394.9 v2.2 M199.7 638.0 v-2.2 M199.7 394.9 v2.2 M209.2 638.0 v-4.5 M209.2 394.9 v4.5 M218.7 638.0 v-2.2 M218.7 394.9 v2.2 M228.2 638.0 v-2.2 M228.2 394.9 v2.2 M237.7 638.0 v-2.2 M237.7 394.9 v2.2 M247.2 638.0 v-2.2 M247.2 394.9 v2.2 M256.6 638.0 v-2.2 M256.6 394.9 v2.2 M266.1 638.0 v-2.2 M266.1 394.9 v2.2 M275.6 638.0 v-2.2 M275.6 394.9 v2.2 M285.1 638.0 v-2.2 M285.1 394.9 v2.2 M294.6 638.0 v-2.2 M294.6 394.9 v2.2 M304.1 638.0 v-4.5 M304.1 394.9 v4.5 M313.5 638.0 v-2.2 M313.5 394.9 v2.2 M323.0 638.0 v-2.2 M323.0 394.9 v2.2 M332.5 638.0 v-2.2 M332.5 394.9 v2.2 M342.0 638.0 v-2.2 M342.0 394.9 v2.2 M351.5 638.0 v-2.2 M351.5 394.9 v2.2 M361.0 638.0 v-2.2 M361.0 394.9 v2.2 M370.5 638.0 v-2.2 M370.5 394.9 v2.2 M379.9 638.0 v-2.2 M379.9 394.9 v2.2 M389.4 638.0 v-2.2 M389.4 394.9 v2.2 M398.9 638.0 v-4.5 M398.9 394.9 v4.5 M408.4 638.0 v-2.2 M408.4 394.9 v2.2 M417.9 638.0 v-2.2 M417.9 394.9 v2.2 M427.4 638.0 v-2.2 M427.4 394.9 v2.2 M436.8 638.0 v-2.2 M436.8 394.9 v2.2 M446.3 638.0 v-2.2 M446.3 394.9 v2.2 M455.8 638.0 v-2.2 M455.8 394.9 v2.2 M465.3 638.0 v-2.2 M465.3 394.9 v2.2 M474.8 638.0 v-2.2 M474.8 394.9 v2.2 M484.3 638.0 v-2.2 M484.3 394.9 v2.2 M493.8 638.0 v-4.5 M493.8 394.9 v4.5 M503.2 638.0 v-2.2 M503.2 394.9 v2.2 M512.7 638.0 v-2.2 M512.7 394.9 v2.2 M522.2 638.0 v-2.2 M522.2 394.9 v2.2 M531.7 638.0 v-2.2 M531.7 394.9 v2.2 M541.2 638.0 v-2.2 M541.2 394.9 v2.2 M550.7 638.0 v-2.2 M550.7 394.9 v2.2 M560.1 638.0 v-2.2 M560.1 394.9 v2.2 M569.6 638.0 v-2.2 M569.6 394.9 v2.2 M579.1 638.0 v-2.2 M579.1 394.9 v2.2 M588.6 638.0 v-4.5 M588.6 394.9 v4.5 M598.1 638.0 v-2.2 M598.1 394.9 v2.2 M607.6 638.0 v-2.2 M607.6 394.9 v2.2 M617.0 638.0 v-2.2 M617.0 394.9 v2.2 M626.5 638.0 v-2.2 M626.5 394.9 v2.2 M636.0 638.0 v-2.2 M636.0 394.9 v2.2 M38.5 617.7 h9 M645.5 617.7 h-9 M38.5 597.5 h9 M645.5 597.5 h-9 M38.5 577.2 h9 M645.5 577.2 h-9 M38.5 557.0 h9 M645.5 557.0 h-9 M38.5 536.7 h9 M645.5 536.7 h-9 M38.5 516.4 h9 M645.5 516.4 h-9 M38.5 496.2 h9 M645.5 496.2 h-9 M38.5 475.9 h9 M645.5 475.9 h-9 M38.5 455.7 h9 M645.5 455.7 h-9 M38.5 435.4 h9 M645.5 435.4 h-9 M38.5 415.2 h9 M645.5 415.2 h-9 "/>
</g>
<g font-size="11" text-anchor="end">
<text x="29.1" y="642.2">-5</text>
<text x="29.1" y="621.9">-4</text>
<text x="29.1" y="601.7">-3</text>
<text x="29.1" y="581.4">-2</text>
<text x="29.1" y="561.2">-1</text>
<text x="29.1" y="540.9">0</text>
<text x="29.1" y="520.6">1</text>
<text x="29.1" y="500.4">2</text>
<text x="29.1" y="480.1">3</text>
<text x="29.1" y="459.9">4</text>
<text x="29.1" y="439.6">5</text>
<text x="29.1" y="419.4">6</text>
<text x="29.1" y="399.1">7</text>
</g>
<g font-size="11" text-anchor="middle">
<text x="114.4" y="650.4">-20</text>
<text x="209.2" y="650.4">-15</text>
<text x="304.1" y="650.4">-10</text>
<text x="398.9" y="650.4">-5</text>
<text x="495.9" y="650.4">0</text>
<text x="590.8" y="650.4">5</text>
</g>
<text font-size="13.1" text-anchor="middle" x="342.0" y="674.4">x-coordinate [m]</text>
<text font-size="13.1" text-anchor="middle" transform="translate(9.1 516.5) rotate(-90)">y-coordinate [m]</text>
<text font-size="11.85" text-anchor="middle" x="341.8" y="376.0">c) BEAM 1 LOST IN MB.B15R1 - HL-LHC CONDITIONS - WITH CHICANE</text>
<g shape-rendering="crispEdges">
<path fill="#0000ff" d="M1184 399h4v4h-4zM1267 427h4v4h-4zM1283 444h3v4h-3zM1313 480h4v4h-4zM1298 484h4v4h-4zM1047 504h4v4h-4zM1078 504h4v4h-4zM1074 516h4v5h-4zM1302 516h3v5h-3zM1082 521h3v4h-3zM1025 525h3v4h-3zM1082 525h3v4h-3zM1025 533h3v4h-3zM1294 545h4v4h-4zM1021 557h4v4h-4zM1089 557h8v4h-8zM1017 573h4v4h-4zM1021 585h4v4h-4zM1116 585h4v4h-4zM1010 593h3v4h-3zM1195 593h4v4h-4zM1214 593h4v4h-4zM1013 597h4v5h-4zM1161 597h4v5h-4zM998 622h4v4h-4zM1002 634h4v4h-4z"/>
<path fill="#009eff" d="M1082 395h7v4h-7zM1097 395h4v4h-4zM1104 395h4v4h-4zM1150 395h4v4h-4zM1169 395h4v4h-4zM1097 399h11v4h-11zM1165 399h4v4h-4zM1176 399h4v4h-4zM1188 399h7v4h-7zM1207 399h4v4h-4zM1104 403h8v4h-8zM1135 403h3v4h-3zM1146 403h4v4h-4zM1154 403h3v4h-3zM1176 403h8v4h-8zM1195 403h4v4h-4zM1222 403h8v4h-8zM1108 407h4v4h-4zM1120 407h7v4h-7zM1138 407h8v4h-8zM1211 407h3v4h-3zM1127 411h8v4h-8zM1245 411h4v4h-4zM1249 419h7v4h-7zM1260 419h4v4h-4zM1256 423h8v4h-8zM1260 427h7v4h-7zM1267 431h4v4h-4zM1275 435h4v4h-4zM1275 444h4v4h-4zM1279 448h4v4h-4zM1294 472h4v4h-4zM1298 488h4v4h-4zM1294 496h4v4h-4zM1074 500h4v4h-4zM1294 500h4v4h-4zM1025 504h7v4h-7zM1036 504h4v4h-4zM1044 504h3v4h-3zM1051 504h15v4h-15zM1070 504h8v4h-8zM1082 504h3v4h-3zM1021 508h15v4h-15zM1063 508h3v4h-3zM1082 508h3v4h-3zM1298 508h4v4h-4zM1017 512h4v4h-4zM1040 512h4v4h-4zM1078 512h4v4h-4zM1036 516h11v5h-11zM1082 516h7v5h-7zM1036 521h4v4h-4zM1013 525h8v4h-8zM1298 525h4v4h-4zM1017 529h11v4h-11zM1085 529h4v4h-4zM1093 529h4v4h-4zM1294 529h4v4h-4zM1013 533h8v4h-8zM1089 533h4v4h-4zM1013 537h15v4h-15zM1032 537h4v4h-4zM1093 537h4v4h-4zM1294 537h4v4h-4zM1017 541h4v4h-4zM1025 541h3v4h-3zM1089 541h12v4h-12zM1013 545h12v4h-12zM1070 545h4v4h-4zM1093 545h4v4h-4zM1290 545h4v4h-4zM1017 549h8v4h-8zM1032 549h4v4h-4zM1089 549h4v4h-4zM1097 549h4v4h-4zM1283 549h3v4h-3zM1017 553h4v4h-4zM1097 553h4v4h-4zM1010 557h11v4h-11zM1028 557h8v4h-8zM1097 557h4v4h-4zM1286 557h4v4h-4zM1006 561h11v4h-11zM1025 561h3v4h-3zM1097 561h4v4h-4zM1013 565h4v4h-4zM1283 565h3v4h-3zM1010 569h7v4h-7zM1025 569h3v4h-3zM1093 569h4v4h-4zM1283 569h3v4h-3zM1013 573h4v4h-4zM1021 573h4v4h-4zM1101 573h3v4h-3zM1006 577h7v4h-7zM1017 577h4v4h-4zM1074 577h4v4h-4zM1271 577h4v4h-4zM1279 577h4v4h-4zM1010 581h7v4h-7zM1104 581h4v4h-4zM1271 581h4v4h-4zM1002 585h4v4h-4zM1104 585h4v4h-4zM1260 585h7v4h-7zM1006 589h4v4h-4zM1028 589h4v4h-4zM1127 589h8v4h-8zM1256 589h4v4h-4zM1013 593h4v4h-4zM1146 593h4v4h-4zM1154 593h11v4h-11zM1169 593h7v4h-7zM1180 593h12v4h-12zM1199 593h8v4h-8zM1211 593h3v4h-3zM1233 593h23v4h-23zM1032 597h4v5h-4zM1169 597h4v5h-4zM1176 597h12v5h-12zM1192 597h15v5h-15zM1233 597h4v5h-4zM1006 602h4v4h-4zM1226 602h4v4h-4zM1002 606h8v4h-8zM1017 606h4v4h-4zM1002 610h4v4h-4zM998 614h8v4h-8zM998 618h15v4h-15zM1002 622h4v4h-4zM991 626h19v4h-19zM991 630h7v4h-7zM991 634h11v4h-11zM1010 634h3v4h-3z"/>
<path fill="#00c7e8" d="M1070 395h12v4h-12zM1089 395h8v4h-8zM1070 399h23v4h-23zM1169 399h7v4h-7zM1066 403h4v4h-4zM1082 403h22v4h-22zM1157 403h12v4h-12zM1184 403h11v4h-11zM1199 403h15v4h-15zM1302 403h3v4h-3zM1074 407h4v4h-4zM1093 407h15v4h-15zM1127 407h11v4h-11zM1146 407h11v4h-11zM1199 407h8v4h-8zM1214 407h16v4h-16zM1078 411h7v4h-7zM1093 411h4v4h-4zM1108 411h19v4h-19zM1135 411h15v4h-15zM1218 411h23v4h-23zM1112 415h4v4h-4zM1123 415h19v4h-19zM1230 415h19v4h-19zM1108 419h8v4h-8zM1123 419h4v4h-4zM1241 419h8v4h-8zM1256 419h4v4h-4zM1302 419h3v4h-3zM1245 423h11v4h-11zM1256 427h4v4h-4zM1256 431h11v4h-11zM1264 435h11v4h-11zM1267 439h8v5h-8zM1267 444h8v4h-8zM1271 448h8v4h-8zM1279 452h4v4h-4zM1279 456h7v4h-7zM1275 460h4v4h-4zM1283 460h3v4h-3zM1279 464h11v4h-11zM1283 468h15v4h-15zM1290 472h4v4h-4zM1294 476h4v4h-4zM1286 480h12v4h-12zM1294 484h4v4h-4zM1078 488h7v4h-7zM1290 488h8v4h-8zM1017 492h15v4h-15zM1036 492h8v4h-8zM1055 492h4v4h-4zM1066 492h4v4h-4zM1286 492h12v4h-12zM1013 496h80v4h-80zM1290 496h4v4h-4zM1305 496h4v4h-4zM1006 500h68v4h-68zM1078 500h15v4h-15zM1010 504h15v4h-15zM1032 504h4v4h-4zM1040 504h4v4h-4zM1085 504h12v4h-12zM1294 504h4v4h-4zM1010 508h11v4h-11zM1036 508h8v4h-8zM1085 508h8v4h-8zM1294 508h4v4h-4zM1006 512h11v4h-11zM1021 512h4v4h-4zM1036 512h4v4h-4zM1085 512h8v4h-8zM1294 512h8v4h-8zM1006 516h19v5h-19zM1089 516h4v5h-4zM1294 516h4v5h-4zM1006 521h15v4h-15zM1085 521h8v4h-8zM1290 521h8v4h-8zM1002 525h11v4h-11zM1021 525h4v4h-4zM1085 525h19v4h-19zM1290 525h8v4h-8zM998 529h19v4h-19zM1089 529h4v4h-4zM1097 529h4v4h-4zM1286 529h8v4h-8zM1006 533h7v4h-7zM1021 533h4v4h-4zM1093 533h8v4h-8zM1286 533h8v4h-8zM1002 537h11v4h-11zM1097 537h7v4h-7zM1286 537h8v4h-8zM1302 537h3v4h-3zM1002 541h15v4h-15zM1021 541h4v4h-4zM1101 541h3v4h-3zM1279 541h4v4h-4zM1286 541h4v4h-4zM1006 545h7v4h-7zM1097 545h11v4h-11zM1279 545h11v4h-11zM1006 549h11v4h-11zM1093 549h4v4h-4zM1101 549h7v4h-7zM1279 549h4v4h-4zM1286 549h4v4h-4zM998 553h4v4h-4zM1006 553h11v4h-11zM1093 553h4v4h-4zM1101 553h11v4h-11zM1283 553h3v4h-3zM998 557h12v4h-12zM1101 557h3v4h-3zM1283 557h3v4h-3zM1002 561h4v4h-4zM1021 561h4v4h-4zM1101 561h7v4h-7zM1279 561h7v4h-7zM1302 561h3v4h-3zM1002 565h11v4h-11zM1021 565h4v4h-4zM1104 565h8v4h-8zM1279 565h4v4h-4zM1002 569h8v4h-8zM1017 569h8v4h-8zM1101 569h7v4h-7zM1120 569h3v4h-3zM1271 569h12v4h-12zM994 573h19v4h-19zM1063 573h3v4h-3zM1104 573h12v4h-12zM1260 573h4v4h-4zM1267 573h12v4h-12zM998 577h8v4h-8zM1013 577h4v4h-4zM1112 577h11v4h-11zM1131 577h4v4h-4zM1260 577h11v4h-11zM1275 577h4v4h-4zM987 581h4v4h-4zM998 581h12v4h-12zM1112 581h19v4h-19zM1135 581h3v4h-3zM1169 581h4v4h-4zM1176 581h4v4h-4zM1188 581h4v4h-4zM1233 581h8v4h-8zM1256 581h15v4h-15zM991 585h11v4h-11zM1006 585h7v4h-7zM1123 585h34v4h-34zM1165 585h8v4h-8zM1180 585h12v4h-12zM1199 585h4v4h-4zM1211 585h7v4h-7zM1230 585h3v4h-3zM1252 585h8v4h-8zM994 589h12v4h-12zM1135 589h121v4h-121zM994 593h16v4h-16zM1131 593h4v4h-4zM1138 593h8v4h-8zM1165 593h4v4h-4zM1176 593h4v4h-4zM1192 593h3v4h-3zM1207 593h4v4h-4zM1218 593h15v4h-15zM991 597h19v5h-19zM1150 597h4v5h-4zM1173 597h3v5h-3zM991 602h15v4h-15zM1192 602h3v4h-3zM991 606h11v4h-11zM979 610h23v4h-23zM1010 610h3v4h-3zM983 614h15v4h-15zM983 618h15v4h-15zM983 622h15v4h-15zM983 626h8v4h-8zM975 630h16v4h-16zM1006 630h4v4h-4zM979 634h12v4h-12z"/>
<path fill="#00c85a" d="M1013 395h57v4h-57zM1013 399h57v4h-57zM1017 403h49v4h-49zM1070 403h12v4h-12zM1021 407h53v4h-53zM1078 407h15v4h-15zM1176 407h23v4h-23zM1207 407h4v4h-4zM1025 411h53v4h-53zM1085 411h8v4h-8zM1097 411h11v4h-11zM1211 411h7v4h-7zM1032 415h80v4h-80zM1116 415h7v4h-7zM1226 415h4v4h-4zM1036 419h72v4h-72zM1116 419h7v4h-7zM1127 419h8v4h-8zM1233 419h8v4h-8zM1123 423h8v4h-8zM1241 423h4v4h-4zM1123 427h4v4h-4zM1245 427h11v4h-11zM1120 431h3v4h-3zM1252 431h4v4h-4zM1256 435h8v4h-8zM1260 439h7v5h-7zM1264 444h3v4h-3zM1264 448h7v4h-7zM1267 452h12v4h-12zM1271 456h8v4h-8zM1271 460h4v4h-4zM1279 460h4v4h-4zM1275 464h4v4h-4zM1275 468h8v4h-8zM1279 472h11v4h-11zM1279 476h15v4h-15zM1279 480h7v4h-7zM1283 484h11v4h-11zM1040 488h38v4h-38zM1085 488h8v4h-8zM1283 488h7v4h-7zM998 492h19v4h-19zM1032 492h4v4h-4zM1044 492h11v4h-11zM1059 492h7v4h-7zM1070 492h27v4h-27zM1283 492h3v4h-3zM998 496h15v4h-15zM1093 496h8v4h-8zM1283 496h7v4h-7zM998 500h8v4h-8zM1093 500h8v4h-8zM1283 500h11v4h-11zM998 504h12v4h-12zM1097 504h4v4h-4zM1283 504h11v4h-11zM998 508h12v4h-12zM1093 508h11v4h-11zM1283 508h11v4h-11zM998 512h8v4h-8zM1093 512h11v4h-11zM1283 512h11v4h-11zM998 516h8v5h-8zM1093 516h11v5h-11zM1283 516h11v5h-11zM998 521h8v4h-8zM1093 521h11v4h-11zM1283 521h7v4h-7zM998 525h4v4h-4zM1279 525h11v4h-11zM1101 529h3v4h-3zM1279 529h7v4h-7zM998 533h8v4h-8zM1101 533h7v4h-7zM1279 533h7v4h-7zM998 537h4v4h-4zM1104 537h4v4h-4zM1279 537h7v4h-7zM998 541h4v4h-4zM1104 541h4v4h-4zM1283 541h3v4h-3zM998 545h8v4h-8zM998 549h8v4h-8zM1275 549h4v4h-4zM994 553h4v4h-4zM1002 553h4v4h-4zM1275 553h8v4h-8zM994 557h4v4h-4zM1104 557h8v4h-8zM1275 557h8v4h-8zM994 561h8v4h-8zM1108 561h4v4h-4zM1275 561h4v4h-4zM991 565h11v4h-11zM1275 565h4v4h-4zM991 569h11v4h-11zM1108 569h12v4h-12zM1123 569h148v4h-148zM991 573h3v4h-3zM1116 573h144v4h-144zM1264 573h3v4h-3zM987 577h11v4h-11zM1123 577h8v4h-8zM1135 577h125v4h-125zM991 581h7v4h-7zM1131 581h4v4h-4zM1138 581h31v4h-31zM1173 581h3v4h-3zM1180 581h8v4h-8zM1192 581h41v4h-41zM1241 581h15v4h-15zM983 585h8v4h-8zM1157 585h8v4h-8zM1173 585h7v4h-7zM1192 585h7v4h-7zM1203 585h8v4h-8zM1218 585h12v4h-12zM1233 585h19v4h-19zM983 589h11v4h-11zM979 593h15v4h-15zM979 597h12v5h-12zM975 602h16v4h-16zM975 606h16v4h-16zM972 610h7v4h-7zM710 614h11v4h-11zM972 614h11v4h-11zM710 618h23v4h-23zM968 618h15v4h-15zM710 622h30v4h-30zM964 622h19v4h-19zM710 626h34v4h-34zM964 626h19v4h-19zM710 630h42v4h-42zM960 630h15v4h-15zM710 634h45v4h-45zM956 634h23v4h-23z"/>
<path fill="#3cf01e" d="M975 395h38v4h-38zM983 399h30v4h-30zM987 403h30v4h-30zM1169 403h7v4h-7zM994 407h27v4h-27zM1157 407h19v4h-19zM998 411h27v4h-27zM1150 411h61v4h-61zM1006 415h26v4h-26zM1142 415h84v4h-84zM1010 419h26v4h-26zM1135 419h98v4h-98zM1070 423h53v4h-53zM1131 423h110v4h-110zM1131 427h114v4h-114zM1127 431h125v4h-125zM1123 435h133v4h-133zM1120 439h140v5h-140zM1120 444h144v4h-144zM1116 448h148v4h-148zM1112 452h155v4h-155zM1112 456h159v4h-159zM1108 460h163v4h-163zM1104 464h171v4h-171zM1104 468h171v4h-171zM1104 472h175v4h-175zM1101 476h178v4h-178zM1101 480h178v4h-178zM1017 484h266v4h-266zM972 488h68v4h-68zM1093 488h190v4h-190zM975 492h23v4h-23zM1097 492h186v4h-186zM975 496h23v4h-23zM1101 496h182v4h-182zM975 500h23v4h-23zM1101 500h182v4h-182zM975 504h23v4h-23zM1101 504h182v4h-182zM975 508h23v4h-23zM1104 508h179v4h-179zM975 512h23v4h-23zM1104 512h179v4h-179zM975 516h23v5h-23zM1104 516h179v5h-179zM975 521h23v4h-23zM1104 521h179v4h-179zM975 525h23v4h-23zM1104 525h175v4h-175zM975 529h23v4h-23zM1104 529h175v4h-175zM975 533h23v4h-23zM1108 533h171v4h-171zM975 537h23v4h-23zM1108 537h171v4h-171zM975 541h23v4h-23zM1108 541h171v4h-171zM975 545h23v4h-23zM1108 545h171v4h-171zM972 549h26v4h-26zM1108 549h167v4h-167zM972 553h22v4h-22zM1112 553h163v4h-163zM972 557h22v4h-22zM1112 557h163v4h-163zM972 561h22v4h-22zM1112 561h163v4h-163zM972 565h19v4h-19zM1112 565h163v4h-163zM968 569h23v4h-23zM968 573h23v4h-23zM968 577h19v4h-19zM964 581h23v4h-23zM964 585h19v4h-19zM710 589h7v4h-7zM960 589h23v4h-23zM710 593h15v4h-15zM956 593h23v4h-23zM710 597h23v5h-23zM956 597h23v5h-23zM710 602h30v4h-30zM953 602h22v4h-22zM710 606h34v4h-34zM949 606h26v4h-26zM710 610h42v4h-42zM945 610h27v4h-27zM721 614h34v4h-34zM941 614h31v4h-31zM733 618h30v4h-30zM937 618h31v4h-31zM740 622h30v4h-30zM934 622h30v4h-30zM744 626h30v4h-30zM930 626h34v4h-34zM752 630h30v4h-30zM930 630h30v4h-30zM755 634h31v4h-31zM926 634h30v4h-30z"/>
<path fill="#a2ff00" d="M710 395h72v4h-72zM926 395h49v4h-49zM710 399h30v4h-30zM934 399h49v4h-49zM710 403h11v4h-11zM941 403h46v4h-46zM710 407h4v4h-4zM949 407h45v4h-45zM956 411h42v4h-42zM964 415h42v4h-42zM968 419h42v4h-42zM1002 423h68v4h-68zM1017 427h106v4h-106zM1127 427h4v4h-4zM1112 431h8v4h-8zM1123 431h4v4h-4zM1108 435h15v4h-15zM1108 439h12v5h-12zM1104 444h16v4h-16zM1101 448h15v4h-15zM1101 452h11v4h-11zM1097 456h15v4h-15zM1097 460h11v4h-11zM1093 464h11v4h-11zM1093 468h11v4h-11zM1093 472h11v4h-11zM1089 476h12v4h-12zM987 480h114v4h-114zM945 484h72v4h-72zM949 488h23v4h-23zM953 492h22v4h-22zM953 496h22v4h-22zM953 500h22v4h-22zM953 504h22v4h-22zM953 508h22v4h-22zM953 512h22v4h-22zM953 516h22v5h-22zM953 521h22v4h-22zM953 525h22v4h-22zM953 529h22v4h-22zM953 533h22v4h-22zM953 537h22v4h-22zM953 541h22v4h-22zM949 545h26v4h-26zM949 549h23v4h-23zM949 553h23v4h-23zM949 557h23v4h-23zM945 561h27v4h-27zM945 565h27v4h-27zM945 569h23v4h-23zM941 573h27v4h-27zM710 577h11v4h-11zM937 577h31v4h-31zM710 581h26v4h-26zM937 581h27v4h-27zM710 585h38v4h-38zM934 585h30v4h-30zM717 589h42v4h-42zM930 589h30v4h-30zM725 593h45v4h-45zM930 593h26v4h-26zM733 597h45v5h-45zM926 597h30v5h-30zM740 602h46v4h-46zM922 602h31v4h-31zM744 606h49v4h-49zM918 606h31v4h-31zM752 610h49v4h-49zM911 610h34v4h-34zM755 614h57v4h-57zM907 614h34v4h-34zM763 618h57v4h-57zM899 618h38v4h-38zM770 622h57v4h-57zM888 622h46v4h-46zM774 626h69v4h-69zM873 626h57v4h-57zM782 630h148v4h-148zM786 634h140v4h-140z"/>
<path fill="#e8ff00" d="M782 395h144v4h-144zM740 399h194v4h-194zM721 403h220v4h-220zM714 407h129v4h-129zM881 407h68v4h-68zM710 411h106v4h-106zM899 411h57v4h-57zM710 415h83v4h-83zM918 415h46v4h-46zM710 419h19v4h-19zM930 419h38v4h-38zM710 423h19v4h-19zM934 423h68v4h-68zM710 427h19v4h-19zM945 427h72v4h-72zM710 431h19v4h-19zM949 431h163v4h-163zM710 435h19v4h-19zM953 435h155v4h-155zM710 439h19v5h-19zM953 439h155v5h-155zM710 444h19v4h-19zM953 444h151v4h-151zM710 448h19v4h-19zM953 448h148v4h-148zM710 452h19v4h-19zM953 452h148v4h-148zM710 456h15v4h-15zM953 456h144v4h-144zM710 460h15v4h-15zM949 460h148v4h-148zM710 464h15v4h-15zM945 464h148v4h-148zM710 468h15v4h-15zM945 468h148v4h-148zM710 472h15v4h-15zM941 472h152v4h-152zM710 476h15v4h-15zM934 476h155v4h-155zM710 480h11v4h-11zM922 480h65v4h-65zM710 484h11v4h-11zM922 484h23v4h-23zM710 488h11v4h-11zM922 488h27v4h-27zM710 492h11v4h-11zM930 492h23v4h-23zM710 496h11v4h-11zM930 496h23v4h-23zM710 500h11v4h-11zM934 500h19v4h-19zM710 504h11v4h-11zM934 504h19v4h-19zM710 508h11v4h-11zM934 508h19v4h-19zM710 512h7v4h-7zM934 512h19v4h-19zM710 516h7v5h-7zM934 516h19v5h-19zM710 521h7v4h-7zM934 521h19v4h-19zM710 525h7v4h-7zM934 525h19v4h-19zM710 529h7v4h-7zM934 529h19v4h-19zM710 533h7v4h-7zM934 533h19v4h-19zM710 537h7v4h-7zM934 537h19v4h-19zM710 541h7v4h-7zM934 541h19v4h-19zM710 545h7v4h-7zM934 545h15v4h-15zM710 549h7v4h-7zM934 549h15v4h-15zM710 553h7v4h-7zM934 553h15v4h-15zM710 557h11v4h-11zM930 557h19v4h-19zM710 561h11v4h-11zM930 561h15v4h-15zM710 565h11v4h-11zM930 565h15v4h-15zM710 569h15v4h-15zM926 569h19v4h-19zM710 573h30v4h-30zM922 573h19v4h-19zM721 577h42v4h-42zM922 577h15v4h-15zM736 581h38v4h-38zM918 581h19v4h-19zM748 585h38v4h-38zM915 585h19v4h-19zM759 589h42v4h-42zM911 589h19v4h-19zM770 593h42v4h-42zM903 593h27v4h-27zM778 597h46v5h-46zM892 597h34v5h-34zM786 602h136v4h-136zM793 606h125v4h-125zM801 610h110v4h-110zM812 614h95v4h-95zM820 618h79v4h-79zM827 622h61v4h-61zM843 626h30v4h-30z"/>
<path fill="#ffdf00" d="M843 407h38v4h-38zM816 411h83v4h-83zM793 415h125v4h-125zM729 419h201v4h-201zM729 423h205v4h-205zM729 427h7v4h-7zM862 427h83v4h-83zM729 431h7v4h-7zM869 431h80v4h-80zM729 435h7v4h-7zM877 435h76v4h-76zM729 439h7v5h-7zM877 439h76v5h-76zM729 444h7v4h-7zM881 444h72v4h-72zM729 448h7v4h-7zM884 448h69v4h-69zM729 452h4v4h-4zM884 452h69v4h-69zM725 456h8v4h-8zM884 456h69v4h-69zM725 460h8v4h-8zM884 460h65v4h-65zM725 464h8v4h-8zM884 464h61v4h-61zM725 468h8v4h-8zM884 468h61v4h-61zM725 472h4v4h-4zM884 472h57v4h-57zM884 476h50v4h-50zM721 480h4v4h-4zM896 480h26v4h-26zM721 484h4v4h-4zM903 484h19v4h-19zM721 488h4v4h-4zM907 488h15v4h-15zM721 492h4v4h-4zM911 492h19v4h-19zM721 496h4v4h-4zM911 496h19v4h-19zM721 500h4v4h-4zM911 500h23v4h-23zM721 504h4v4h-4zM915 504h19v4h-19zM721 508h4v4h-4zM915 508h19v4h-19zM717 512h8v4h-8zM915 512h19v4h-19zM717 516h8v5h-8zM915 516h19v5h-19zM717 521h8v4h-8zM915 521h19v4h-19zM717 525h8v4h-8zM915 525h19v4h-19zM717 529h8v4h-8zM915 529h19v4h-19zM717 533h8v4h-8zM915 533h19v4h-19zM717 537h8v4h-8zM915 537h19v4h-19zM717 541h8v4h-8zM915 541h19v4h-19zM717 545h8v4h-8zM915 545h19v4h-19zM717 549h8v4h-8zM915 549h19v4h-19zM717 553h8v4h-8zM911 553h23v4h-23zM721 557h4v4h-4zM911 557h19v4h-19zM721 561h4v4h-4zM907 561h23v4h-23zM721 565h8v4h-8zM907 565h23v4h-23zM725 569h76v4h-76zM903 569h23v4h-23zM740 573h84v4h-84zM899 573h23v4h-23zM763 577h68v4h-68zM892 577h30v4h-30zM774 581h144v4h-144zM786 585h129v4h-129zM801 589h110v4h-110zM812 593h91v4h-91zM824 597h68v5h-68z"/>
<path fill="#ff9400" d="M736 427h126v4h-126zM736 431h133v4h-133zM736 435h141v4h-141zM736 439h141v5h-141zM736 444h145v4h-145zM736 448h148v4h-148zM733 452h151v4h-151zM733 456h151v4h-151zM733 460h151v4h-151zM733 464h151v4h-151zM733 468h151v4h-151zM729 472h155v4h-155zM725 476h159v4h-159zM725 480h110v4h-110zM881 480h15v4h-15zM725 484h8v4h-8zM744 484h80v4h-80zM884 484h19v4h-19zM725 488h8v4h-8zM752 488h68v4h-68zM888 488h19v4h-19zM725 492h8v4h-8zM763 492h53v4h-53zM892 492h19v4h-19zM725 496h8v4h-8zM770 496h42v4h-42zM896 496h15v4h-15zM725 500h8v4h-8zM786 500h22v4h-22zM899 500h12v4h-12zM725 504h8v4h-8zM797 504h11v4h-11zM899 504h16v4h-16zM725 508h8v4h-8zM903 508h12v4h-12zM725 512h8v4h-8zM903 512h12v4h-12zM725 516h8v5h-8zM903 516h12v5h-12zM725 521h8v4h-8zM903 521h12v4h-12zM725 525h8v4h-8zM907 525h8v4h-8zM725 529h8v4h-8zM907 529h8v4h-8zM725 533h34v4h-34zM907 533h8v4h-8zM725 537h38v4h-38zM907 537h8v4h-8zM725 541h42v4h-42zM907 541h8v4h-8zM725 545h45v4h-45zM903 545h12v4h-12zM725 549h49v4h-49zM903 549h12v4h-12zM725 553h53v4h-53zM903 553h8v4h-8zM725 557h57v4h-57zM903 557h8v4h-8zM725 561h76v4h-76zM899 561h8v4h-8zM729 565h98v4h-98zM899 565h8v4h-8zM801 569h102v4h-102zM824 573h75v4h-75zM831 577h61v4h-61z"/>
<path fill="#ff4400" d="M835 480h46v4h-46zM733 484h11v4h-11zM824 484h60v4h-60zM733 488h19v4h-19zM820 488h15v4h-15zM858 488h30v4h-30zM733 492h30v4h-30zM816 492h11v4h-11zM865 492h27v4h-27zM733 496h37v4h-37zM812 496h12v4h-12zM869 496h27v4h-27zM733 500h53v4h-53zM808 500h12v4h-12zM873 500h26v4h-26zM733 504h64v4h-64zM808 504h8v4h-8zM877 504h22v4h-22zM733 508h83v4h-83zM881 508h22v4h-22zM733 512h79v4h-79zM884 512h19v4h-19zM733 516h79v5h-79zM884 516h19v5h-19zM733 521h75v4h-75zM884 521h19v4h-19zM733 525h75v4h-75zM884 525h23v4h-23zM733 529h75v4h-75zM884 529h23v4h-23zM759 533h49v4h-49zM884 533h23v4h-23zM763 537h45v4h-45zM884 537h23v4h-23zM767 541h41v4h-41zM884 541h23v4h-23zM770 545h38v4h-38zM884 545h19v4h-19zM774 549h34v4h-34zM881 549h22v4h-22zM778 553h30v4h-30zM881 553h22v4h-22zM782 557h30v4h-30zM881 557h22v4h-22zM801 561h98v4h-98zM827 565h72v4h-72z"/>
<path fill="#d10000" d="M835 488h23v4h-23zM827 492h38v4h-38zM824 496h45v4h-45zM820 500h53v4h-53zM816 504h61v4h-61zM816 508h65v4h-65zM812 512h72v4h-72zM812 516h72v5h-72zM808 521h76v4h-76zM808 525h76v4h-76zM808 529h76v4h-76zM808 533h76v4h-76zM808 537h76v4h-76zM808 541h76v4h-76zM808 545h76v4h-76zM808 549h73v4h-73zM808 553h73v4h-73zM812 557h69v4h-69z"/>
</g>
<g fill="none" stroke="#000" stroke-width="0.85">
<path d="M729.7 418.9L1132.7 422.2A100.4 107.2 0 0 1 1293.0 508.4L1279.5 617.8L1105.8 617.8L1092.4 508.4L1093.0 492.1L884.9 489.6A47.4 50.7 0 0 1 877.7 576.8L837.2 576.8L826.2 568.9L729.7 568.9Z"/>
<path d="M736.7 535.8L756.7 535.8L778.0 556.0L736.7 556.0Z"/>
<ellipse cx="837.1" cy="563.8" rx="3.00" ry="3.00" stroke-width="1"/>
<ellipse cx="844.2" cy="563.8" rx="3.00" ry="3.00" stroke-width="1"/>
<ellipse cx="855.6" cy="571.3" rx="4.60" ry="5.20" stroke-width="1"/>
<ellipse cx="862.2" cy="538.2" rx="8.10" ry="8.10" stroke-width="2.0"/>
<ellipse cx="862.2" cy="537.0" rx="5.30" ry="5.30" stroke-width="1.0"/>
<ellipse cx="862.2" cy="537.7" rx="6.60" ry="6.60" stroke-width="0.8"/>
<ellipse cx="860.3" cy="536.9" rx="1.40" ry="1.40" stroke-width="0.9"/>
<ellipse cx="864.1" cy="536.9" rx="1.40" ry="1.40" stroke-width="0.9"/>
<path d="M862.2 532.4L862.2 541.6"/>
<path d="M857.8 536.9L866.6 536.9"/>
<ellipse cx="880.1" cy="541.9" rx="5.90" ry="5.90" stroke-width="1.3"/>
<ellipse cx="877.8" cy="542.2" rx="2.20" ry="2.20" stroke-width="0.8"/>
<ellipse cx="882.9" cy="542.6" rx="1.30" ry="1.30" stroke-width="0.8"/>
<ellipse cx="880.6" cy="538.4" rx="0.90" ry="0.90" stroke-width="0.7"/>
<ellipse cx="879.6" cy="545.6" rx="0.80" ry="0.80" stroke-width="0.7"/>
<path d="M736.7 427.7L1123.2 430.7A100.4 107.2 0 0 0 1095.7 480.3L819.2 477.7L819.2 489.0L805.0 512.7L819.7 512.7A41.5 44.4 0 1 1 883.3 565.4L873.9 565.4L873.9 556.1L785.5 555.8L756.7 527.7L736.7 527.7Z"/>
<path d="M1103.5 508.4A89.3 95.4 0 0 1 1192.7 413.0A89.3 95.4 0 0 1 1282.1 508.4L1272.0 569.0L1113.8 569.0Z"/>
</g>
<g font-weight="bold" font-size="12.8">
<text x="948.1" y="451.1">SAFETY</text>
<text x="948.5" y="466.2">TUNNEL</text>
<text x="847.7" y="520.9">LHC</text>
<text x="1180.7" y="459.9">FPF</text>
</g>
<g stroke="#000" stroke-width="0.8" fill="none">
<rect x="709.8" y="394.9" width="607.0" height="243.1"/>
<path d="M719.3 638.0 v-2.2 M719.3 394.9 v2.2 M728.8 638.0 v-2.2 M728.8 394.9 v2.2 M738.3 638.0 v-2.2 M738.3 394.9 v2.2 M747.7 638.0 v-2.2 M747.7 394.9 v2.2 M757.2 638.0 v-2.2 M757.2 394.9 v2.2 M766.7 638.0 v-2.2 M766.7 394.9 v2.2 M776.2 638.0 v-2.2 M776.2 394.9 v2.2 M785.7 638.0 v-4.5 M785.7 394.9 v4.5 M795.2 638.0 v-2.2 M795.2 394.9 v2.2 M804.6 638.0 v-2.2 M804.6 394.9 v2.2 M814.1 638.0 v-2.2 M814.1 394.9 v2.2 M823.6 638.0 v-2.2 M823.6 394.9 v2.2 M833.1 638.0 v-2.2 M833.1 394.9 v2.2 M842.6 638.0 v-2.2 M842.6 394.9 v2.2 M852.1 638.0 v-2.2 M852.1 394.9 v2.2 M861.5 638.0 v-2.2 M861.5 394.9 v2.2 M871.0 638.0 v-2.2 M871.0 394.9 v2.2 M880.5 638.0 v-4.5 M880.5 394.9 v4.5 M890.0 638.0 v-2.2 M890.0 394.9 v2.2 M899.5 638.0 v-2.2 M899.5 394.9 v2.2 M909.0 638.0 v-2.2 M909.0 394.9 v2.2 M918.5 638.0 v-2.2 M918.5 394.9 v2.2 M927.9 638.0 v-2.2 M927.9 394.9 v2.2 M937.4 638.0 v-2.2 M937.4 394.9 v2.2 M946.9 638.0 v-2.2 M946.9 394.9 v2.2 M956.4 638.0 v-2.2 M956.4 394.9 v2.2 M965.9 638.0 v-2.2 M965.9 394.9 v2.2 M975.4 638.0 v-4.5 M975.4 394.9 v4.5 M984.8 638.0 v-2.2 M984.8 394.9 v2.2 M994.3 638.0 v-2.2 M994.3 394.9 v2.2 M1003.8 638.0 v-2.2 M1003.8 394.9 v2.2 M1013.3 638.0 v-2.2 M1013.3 394.9 v2.2 M1022.8 638.0 v-2.2 M1022.8 394.9 v2.2 M1032.3 638.0 v-2.2 M1032.3 394.9 v2.2 M1041.8 638.0 v-2.2 M1041.8 394.9 v2.2 M1051.2 638.0 v-2.2 M1051.2 394.9 v2.2 M1060.7 638.0 v-2.2 M1060.7 394.9 v2.2 M1070.2 638.0 v-4.5 M1070.2 394.9 v4.5 M1079.7 638.0 v-2.2 M1079.7 394.9 v2.2 M1089.2 638.0 v-2.2 M1089.2 394.9 v2.2 M1098.7 638.0 v-2.2 M1098.7 394.9 v2.2 M1108.1 638.0 v-2.2 M1108.1 394.9 v2.2 M1117.6 638.0 v-2.2 M1117.6 394.9 v2.2 M1127.1 638.0 v-2.2 M1127.1 394.9 v2.2 M1136.6 638.0 v-2.2 M1136.6 394.9 v2.2 M1146.1 638.0 v-2.2 M1146.1 394.9 v2.2 M1155.6 638.0 v-2.2 M1155.6 394.9 v2.2 M1165.0 638.0 v-4.5 M1165.0 394.9 v4.5 M1174.5 638.0 v-2.2 M1174.5 394.9 v2.2 M1184.0 638.0 v-2.2 M1184.0 394.9 v2.2 M1193.5 638.0 v-2.2 M1193.5 394.9 v2.2 M1203.0 638.0 v-2.2 M1203.0 394.9 v2.2 M1212.5 638.0 v-2.2 M1212.5 394.9 v2.2 M1222.0 638.0 v-2.2 M1222.0 394.9 v2.2 M1231.4 638.0 v-2.2 M1231.4 394.9 v2.2 M1240.9 638.0 v-2.2 M1240.9 394.9 v2.2 M1250.4 638.0 v-2.2 M1250.4 394.9 v2.2 M1259.9 638.0 v-4.5 M1259.9 394.9 v4.5 M1269.4 638.0 v-2.2 M1269.4 394.9 v2.2 M1278.9 638.0 v-2.2 M1278.9 394.9 v2.2 M1288.3 638.0 v-2.2 M1288.3 394.9 v2.2 M1297.8 638.0 v-2.2 M1297.8 394.9 v2.2 M1307.3 638.0 v-2.2 M1307.3 394.9 v2.2 M709.8 617.7 h9 M1316.8 617.7 h-9 M709.8 597.5 h9 M1316.8 597.5 h-9 M709.8 577.2 h9 M1316.8 577.2 h-9 M709.8 557.0 h9 M1316.8 557.0 h-9 M709.8 536.7 h9 M1316.8 536.7 h-9 M709.8 516.4 h9 M1316.8 516.4 h-9 M709.8 496.2 h9 M1316.8 496.2 h-9 M709.8 475.9 h9 M1316.8 475.9 h-9 M709.8 455.7 h9 M1316.8 455.7 h-9 M709.8 435.4 h9 M1316.8 435.4 h-9 M709.8 415.2 h9 M1316.8 415.2 h-9 "/>
</g>
<g font-size="11" text-anchor="end">
<text x="700.4" y="642.2">-5</text>
<text x="700.4" y="621.9">-4</text>
<text x="700.4" y="601.7">-3</text>
<text x="700.4" y="581.4">-2</text>
<text x="700.4" y="561.2">-1</text>
<text x="700.4" y="540.9">0</text>
<text x="700.4" y="520.6">1</text>
<text x="700.4" y="500.4">2</text>
<text x="700.4" y="480.1">3</text>
<text x="700.4" y="459.9">4</text>
<text x="700.4" y="439.6">5</text>
<text x="700.4" y="419.4">6</text>
<text x="700.4" y="399.1">7</text>
</g>
<g font-size="11" text-anchor="middle">
<text x="785.7" y="650.4">-20</text>
<text x="880.5" y="650.4">-15</text>
<text x="975.4" y="650.4">-10</text>
<text x="1070.2" y="650.4">-5</text>
<text x="1167.2" y="650.4">0</text>
<text x="1262.1" y="650.4">5</text>
</g>
<text font-size="13.1" text-anchor="middle" x="1013.3" y="674.4">x-coordinate [m]</text>
<text font-size="13.1" text-anchor="middle" transform="translate(680.4 516.5) rotate(-90)">y-coordinate [m]</text>
<text font-size="11.85" text-anchor="middle" x="1012.4" y="376.0">d) BEAM 1 LOST IN MB.B15R1 - HL-LHC CONDITIONS - WITHOUT CHICANE</text>
<g shape-rendering="crispEdges">
<rect x="1348.5" y="609.74" width="48.4" height="54.76" fill="#0000ff"/>
<rect x="1348.5" y="554.98" width="48.4" height="54.76" fill="#009eff"/>
<rect x="1348.5" y="500.23" width="48.4" height="54.76" fill="#00c7e8"/>
<rect x="1348.5" y="445.47" width="48.4" height="54.76" fill="#00c85a"/>
<rect x="1348.5" y="390.71" width="48.4" height="54.76" fill="#3cf01e"/>
<rect x="1348.5" y="335.95" width="48.4" height="54.76" fill="#a2ff00"/>
<rect x="1348.5" y="281.19" width="48.4" height="54.76" fill="#e8ff00"/>
<rect x="1348.5" y="226.43" width="48.4" height="54.76" fill="#ffdf00"/>
<rect x="1348.5" y="171.68" width="48.4" height="54.76" fill="#ff9400"/>
<rect x="1348.5" y="116.92" width="48.4" height="54.76" fill="#ff4400"/>
<rect x="1348.5" y="62.16" width="48.4" height="54.76" fill="#d10000"/>
<rect x="1348.5" y="7.40" width="48.4" height="54.76" fill="#990000"/>
</g>
<g stroke="#000" stroke-width="1" fill="none">
<rect x="1348.5" y="7.4" width="48.4" height="657.1"/>
<path d="M1348.5 648.0 h2.5 M1396.9 648.0 h-2.5 M1348.5 638.4 h2.5 M1396.9 638.4 h-2.5 M1348.5 631.5 h2.5 M1396.9 631.5 h-2.5 M1348.5 626.2 h2.5 M1396.9 626.2 h-2.5 M1348.5 621.9 h2.5 M1396.9 621.9 h-2.5 M1348.5 618.2 h2.5 M1396.9 618.2 h-2.5 M1348.5 615.0 h2.5 M1396.9 615.0 h-2.5 M1348.5 612.2 h2.5 M1396.9 612.2 h-2.5 M1348.5 609.7 h5 M1396.9 609.7 h-5 M1348.5 593.3 h2.5 M1396.9 593.3 h-2.5 M1348.5 583.6 h2.5 M1396.9 583.6 h-2.5 M1348.5 576.8 h2.5 M1396.9 576.8 h-2.5 M1348.5 571.5 h2.5 M1396.9 571.5 h-2.5 M1348.5 567.1 h2.5 M1396.9 567.1 h-2.5 M1348.5 563.5 h2.5 M1396.9 563.5 h-2.5 M1348.5 560.3 h2.5 M1396.9 560.3 h-2.5 M1348.5 557.5 h2.5 M1396.9 557.5 h-2.5 M1348.5 555.0 h5 M1396.9 555.0 h-5 M1348.5 538.5 h2.5 M1396.9 538.5 h-2.5 M1348.5 528.9 h2.5 M1396.9 528.9 h-2.5 M1348.5 522.0 h2.5 M1396.9 522.0 h-2.5 M1348.5 516.7 h2.5 M1396.9 516.7 h-2.5 M1348.5 512.4 h2.5 M1396.9 512.4 h-2.5 M1348.5 508.7 h2.5 M1396.9 508.7 h-2.5 M1348.5 505.5 h2.5 M1396.9 505.5 h-2.5 M1348.5 502.7 h2.5 M1396.9 502.7 h-2.5 M1348.5 500.2 h5 M1396.9 500.2 h-5 M1348.5 483.7 h2.5 M1396.9 483.7 h-2.5 M1348.5 474.1 h2.5 M1396.9 474.1 h-2.5 M1348.5 467.3 h2.5 M1396.9 467.3 h-2.5 M1348.5 462.0 h2.5 M1396.9 462.0 h-2.5 M1348.5 457.6 h2.5 M1396.9 457.6 h-2.5 M1348.5 453.9 h2.5 M1396.9 453.9 h-2.5 M1348.5 450.8 h2.5 M1396.9 450.8 h-2.5 M1348.5 448.0 h2.5 M1396.9 448.0 h-2.5 M1348.5 445.5 h5 M1396.9 445.5 h-5 M1348.5 429.0 h2.5 M1396.9 429.0 h-2.5 M1348.5 419.3 h2.5 M1396.9 419.3 h-2.5 M1348.5 412.5 h2.5 M1396.9 412.5 h-2.5 M1348.5 407.2 h2.5 M1396.9 407.2 h-2.5 M1348.5 402.9 h2.5 M1396.9 402.9 h-2.5 M1348.5 399.2 h2.5 M1396.9 399.2 h-2.5 M1348.5 396.0 h2.5 M1396.9 396.0 h-2.5 M1348.5 393.2 h2.5 M1396.9 393.2 h-2.5 M1348.5 390.7 h5 M1396.9 390.7 h-5 M1348.5 374.2 h2.5 M1396.9 374.2 h-2.5 M1348.5 364.6 h2.5 M1396.9 364.6 h-2.5 M1348.5 357.7 h2.5 M1396.9 357.7 h-2.5 M1348.5 352.4 h2.5 M1396.9 352.4 h-2.5 M1348.5 348.1 h2.5 M1396.9 348.1 h-2.5 M1348.5 344.4 h2.5 M1396.9 344.4 h-2.5 M1348.5 341.3 h2.5 M1396.9 341.3 h-2.5 M1348.5 338.5 h2.5 M1396.9 338.5 h-2.5 M1348.5 335.9 h5 M1396.9 335.9 h-5 M1348.5 319.5 h2.5 M1396.9 319.5 h-2.5 M1348.5 309.8 h2.5 M1396.9 309.8 h-2.5 M1348.5 303.0 h2.5 M1396.9 303.0 h-2.5 M1348.5 297.7 h2.5 M1396.9 297.7 h-2.5 M1348.5 293.3 h2.5 M1396.9 293.3 h-2.5 M1348.5 289.7 h2.5 M1396.9 289.7 h-2.5 M1348.5 286.5 h2.5 M1396.9 286.5 h-2.5 M1348.5 283.7 h2.5 M1396.9 283.7 h-2.5 M1348.5 281.2 h5 M1396.9 281.2 h-5 M1348.5 264.7 h2.5 M1396.9 264.7 h-2.5 M1348.5 255.1 h2.5 M1396.9 255.1 h-2.5 M1348.5 248.2 h2.5 M1396.9 248.2 h-2.5 M1348.5 242.9 h2.5 M1396.9 242.9 h-2.5 M1348.5 238.6 h2.5 M1396.9 238.6 h-2.5 M1348.5 234.9 h2.5 M1396.9 234.9 h-2.5 M1348.5 231.7 h2.5 M1396.9 231.7 h-2.5 M1348.5 228.9 h2.5 M1396.9 228.9 h-2.5 M1348.5 226.4 h5 M1396.9 226.4 h-5 M1348.5 209.9 h2.5 M1396.9 209.9 h-2.5 M1348.5 200.3 h2.5 M1396.9 200.3 h-2.5 M1348.5 193.5 h2.5 M1396.9 193.5 h-2.5 M1348.5 188.2 h2.5 M1396.9 188.2 h-2.5 M1348.5 183.8 h2.5 M1396.9 183.8 h-2.5 M1348.5 180.2 h2.5 M1396.9 180.2 h-2.5 M1348.5 177.0 h2.5 M1396.9 177.0 h-2.5 M1348.5 174.2 h2.5 M1396.9 174.2 h-2.5 M1348.5 171.7 h5 M1396.9 171.7 h-5 M1348.5 155.2 h2.5 M1396.9 155.2 h-2.5 M1348.5 145.5 h2.5 M1396.9 145.5 h-2.5 M1348.5 138.7 h2.5 M1396.9 138.7 h-2.5 M1348.5 133.4 h2.5 M1396.9 133.4 h-2.5 M1348.5 129.1 h2.5 M1396.9 129.1 h-2.5 M1348.5 125.4 h2.5 M1396.9 125.4 h-2.5 M1348.5 122.2 h2.5 M1396.9 122.2 h-2.5 M1348.5 119.4 h2.5 M1396.9 119.4 h-2.5 M1348.5 116.9 h5 M1396.9 116.9 h-5 M1348.5 100.4 h2.5 M1396.9 100.4 h-2.5 M1348.5 90.8 h2.5 M1396.9 90.8 h-2.5 M1348.5 83.9 h2.5 M1396.9 83.9 h-2.5 M1348.5 78.6 h2.5 M1396.9 78.6 h-2.5 M1348.5 74.3 h2.5 M1396.9 74.3 h-2.5 M1348.5 70.6 h2.5 M1396.9 70.6 h-2.5 M1348.5 67.5 h2.5 M1396.9 67.5 h-2.5 M1348.5 64.7 h2.5 M1396.9 64.7 h-2.5 M1348.5 62.2 h5 M1396.9 62.2 h-5 M1348.5 45.7 h2.5 M1396.9 45.7 h-2.5 M1348.5 36.0 h2.5 M1396.9 36.0 h-2.5 M1348.5 29.2 h2.5 M1396.9 29.2 h-2.5 M1348.5 23.9 h2.5 M1396.9 23.9 h-2.5 M1348.5 19.5 h2.5 M1396.9 19.5 h-2.5 M1348.5 15.9 h2.5 M1396.9 15.9 h-2.5 M1348.5 12.7 h2.5 M1396.9 12.7 h-2.5 M1348.5 9.9 h2.5 M1396.9 9.9 h-2.5 "/>
</g>
<g font-size="13">
<text x="1399.6" y="669.8">10<tspan font-size="10.4" dy="-5.1">-3</tspan></text>
<text x="1399.6" y="615.0">10<tspan font-size="10.4" dy="-5.1">-2</tspan></text>
<text x="1399.6" y="560.3">10<tspan font-size="10.4" dy="-5.1">-1</tspan></text>
<text x="1399.6" y="505.5">10<tspan font-size="10.4" dy="-5.1">0</tspan></text>
<text x="1399.6" y="450.8">10<tspan font-size="10.4" dy="-5.1">1</tspan></text>
<text x="1399.6" y="396.0">10<tspan font-size="10.4" dy="-5.1">2</tspan></text>
<text x="1399.6" y="341.2">10<tspan font-size="10.4" dy="-5.1">3</tspan></text>
<text x="1399.6" y="286.5">10<tspan font-size="10.4" dy="-5.1">4</tspan></text>
<text x="1399.6" y="231.7">10<tspan font-size="10.4" dy="-5.1">5</tspan></text>
<text x="1399.6" y="177.0">10<tspan font-size="10.4" dy="-5.1">6</tspan></text>
<text x="1399.6" y="122.2">10<tspan font-size="10.4" dy="-5.1">7</tspan></text>
<text x="1399.6" y="67.5">10<tspan font-size="10.4" dy="-5.1">8</tspan></text>
<text x="1399.6" y="12.7">10<tspan font-size="10.4" dy="-5.1">9</tspan></text>
</g>
<text font-size="13" text-anchor="middle" transform="translate(1447.2 335.9) rotate(-90)">Prompt Ambient Dose Equivalent [mSv]</text>
</svg></body></html>
